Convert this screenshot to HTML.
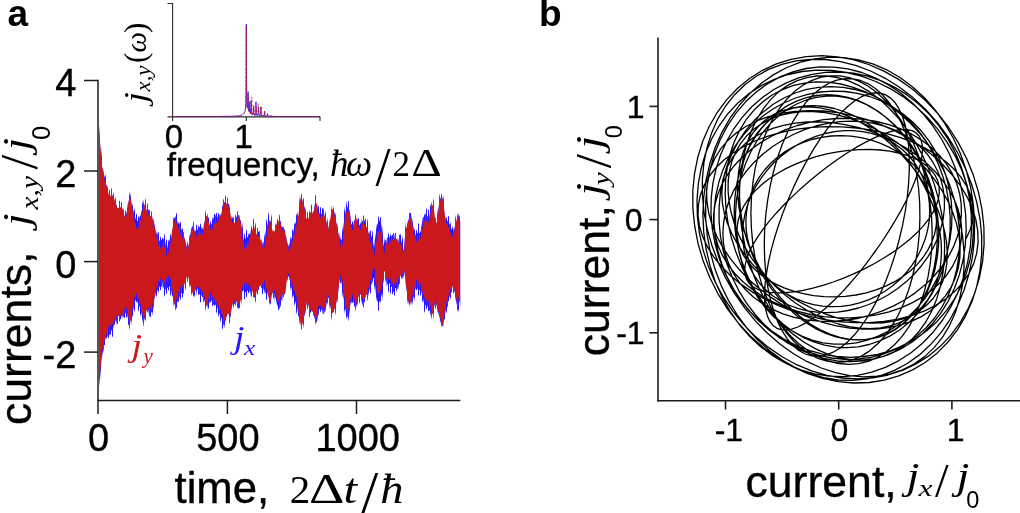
<!DOCTYPE html>
<html lang="en">
<head>
<meta charset="utf-8">
<title>Currents: time series and phase portrait</title>
<style>
html,body{margin:0;padding:0;background:#fff;}
body{width:1020px;height:513px;overflow:hidden;}
svg{display:block;}
text{white-space:pre;}
</style>
</head>
<body>
<svg width="1020" height="513" viewBox="0 0 1020 513">
<rect width="1020" height="513" fill="#fff"/>
<g id="series">
<polygon points="100.0,145.7 100.0,144.8 101.0,157.7 101.0,159.1 102.0,168.2 102.0,165.7 103.0,172.7 103.0,175.5 104.0,181.7 104.0,174.7 105.0,178.1 105.0,185.3 106.0,188.8 106.0,183.4 107.0,186.9 107.0,192.4 108.0,196.4 108.0,194.5 109.0,197.3 109.0,199.2 110.0,199.9 110.0,195.6 111.0,196.6 111.0,201.0 112.0,200.5 112.0,195.8 113.0,195.3 113.0,200.0 114.0,203.0 114.0,201.2 115.0,205.1 115.0,207.1 116.0,210.7 116.0,204.1 117.0,206.0 117.0,212.7 118.0,212.0 118.0,210.5 119.0,210.0 119.0,211.5 120.0,212.1 120.0,208.1 121.0,208.7 121.0,212.8 122.0,213.3 122.0,208.3 123.0,210.5 123.0,215.6 124.0,219.4 124.0,215.2 125.0,217.1 125.0,221.5 126.0,220.7 126.0,215.1 127.0,211.1 127.0,216.5 128.0,212.1 128.0,205.3 129.0,199.8 129.0,206.4 130.0,200.8 130.0,192.7 131.0,197.6 131.0,205.9 132.0,205.8 132.0,202.5 133.0,207.4 133.0,210.6 134.0,213.7 134.0,207.7 135.0,211.5 135.0,217.6 136.0,219.4 136.0,213.1 137.0,215.0 137.0,221.4 138.0,220.6 138.0,217.4 139.0,216.0 139.0,219.2 140.0,216.9 140.0,216.8 141.0,213.7 141.0,213.7 142.0,209.5 142.0,201.1 143.0,204.4 143.0,212.6 144.0,207.9 144.0,204.6 145.0,207.2 145.0,210.5 146.0,213.0 146.0,209.7 147.0,212.1 147.0,215.5 148.0,216.8 148.0,209.1 149.0,211.1 149.0,218.9 150.0,221.3 150.0,215.8 151.0,215.8 151.0,221.3 152.0,221.3 152.0,216.7 153.0,220.6 153.0,225.4 154.0,229.0 154.0,222.1 155.0,227.0 155.0,234.1 156.0,231.4 156.0,231.0 157.0,234.9 157.0,235.5 158.0,237.5 158.0,231.1 159.0,233.4 159.0,239.9 160.0,241.8 160.0,237.9 161.0,236.1 161.0,239.9 162.0,239.6 162.0,238.4 163.0,237.5 163.0,238.7 164.0,239.4 164.0,233.1 165.0,236.5 165.0,242.9 166.0,246.7 166.0,238.8 167.0,240.9 167.0,248.8 168.0,244.6 168.0,242.1 169.0,238.9 169.0,241.2 170.0,240.0 170.0,234.1 171.0,235.6 171.0,242.6 172.0,236.5 172.0,233.1 173.0,227.2 173.0,230.3 174.0,224.7 174.0,217.9 175.0,217.6 175.0,224.3 176.0,219.1 176.0,212.5 177.0,214.4 177.0,221.0 178.0,224.0 178.0,221.5 179.0,224.0 179.0,226.5 180.0,228.2 180.0,220.9 181.0,223.7 181.0,231.0 182.0,234.5 182.0,228.4 183.0,229.0 183.0,235.0 184.0,242.7 184.0,236.4 185.0,240.1 185.0,246.5 186.0,251.1 186.0,244.0 187.0,248.0 187.0,255.4 188.0,252.5 188.0,248.1 189.0,244.2 189.0,248.4 190.0,242.8 190.0,235.9 191.0,231.0 191.0,237.7 192.0,235.6 192.0,227.8 193.0,224.9 193.0,232.5 194.0,234.6 194.0,233.3 195.0,228.1 195.0,229.5 196.0,231.9 196.0,224.4 197.0,225.5 197.0,232.9 198.0,231.4 198.0,227.3 199.0,225.1 199.0,229.1 200.0,227.8 200.0,223.1 201.0,224.8 201.0,229.5 202.0,231.5 202.0,229.7 203.0,226.9 203.0,228.6 204.0,230.8 204.0,224.3 205.0,219.4 205.0,225.7 206.0,221.4 206.0,218.2 207.0,219.6 207.0,222.9 208.0,226.1 208.0,218.5 209.0,217.0 209.0,224.5 210.0,225.2 210.0,220.4 211.0,222.6 211.0,227.5 212.0,226.1 212.0,220.6 213.0,216.2 213.0,221.5 214.0,218.4 214.0,214.3 215.0,213.6 215.0,217.6 216.0,219.0 216.0,213.3 217.0,212.8 217.0,218.5 218.0,215.9 218.0,213.5 219.0,212.9 219.0,215.2 220.0,215.6 220.0,213.6 221.0,216.9 221.0,219.0 222.0,214.3 222.0,207.5 223.0,204.1 223.0,210.7 224.0,209.5 224.0,202.7 225.0,201.8 225.0,208.5 226.0,209.0 226.0,203.6 227.0,205.1 227.0,210.5 228.0,211.4 228.0,203.5 229.0,203.9 229.0,211.9 230.0,215.9 230.0,213.6 231.0,219.0 231.0,221.5 232.0,223.6 232.0,216.2 233.0,219.1 233.0,226.7 234.0,227.8 234.0,225.8 235.0,225.1 235.0,227.2 236.0,226.3 236.0,218.0 237.0,215.7 237.0,223.9 238.0,221.5 238.0,215.6 239.0,215.0 239.0,220.9 240.0,226.1 240.0,220.5 241.0,220.3 241.0,225.2 242.0,230.3 242.0,222.2 243.0,229.2 243.0,237.6 244.0,242.4 244.0,235.4 245.0,232.6 245.0,239.6 246.0,237.3 246.0,230.3 247.0,230.1 247.0,237.2 248.0,237.3 248.0,235.7 249.0,232.9 249.0,234.5 250.0,233.3 250.0,229.5 251.0,235.3 251.0,239.1 252.0,235.0 252.0,233.8 253.0,231.7 253.0,232.9 254.0,232.4 254.0,230.1 255.0,232.4 255.0,234.8 256.0,237.5 256.0,235.1 257.0,236.6 257.0,239.1 258.0,239.8 258.0,231.1 259.0,232.4 259.0,241.1 260.0,241.7 260.0,240.1 261.0,242.3 261.0,244.1 262.0,249.2 262.0,246.1 263.0,241.6 263.0,244.9 264.0,244.1 264.0,239.1 265.0,232.3 265.0,237.0 266.0,229.2 266.0,221.7 267.0,218.6 267.0,225.9 268.0,224.2 268.0,215.8 269.0,210.9 269.0,219.0 270.0,226.2 270.0,219.9 271.0,223.3 271.0,229.8 272.0,233.0 272.0,230.6 273.0,235.5 273.0,238.1 274.0,238.6 274.0,233.3 275.0,230.3 275.0,235.5 276.0,233.5 276.0,227.0 277.0,223.1 277.0,229.4 278.0,226.8 278.0,226.0 279.0,225.5 279.0,226.3 280.0,226.2 280.0,220.0 281.0,222.4 281.0,228.7 282.0,231.5 282.0,226.0 283.0,228.0 283.0,233.5 284.0,234.6 284.0,229.1 285.0,230.1 285.0,235.6 286.0,241.5 286.0,235.4 287.0,242.3 287.0,248.6 288.0,250.3 288.0,244.2 289.0,247.1 289.0,253.4 290.0,245.2 290.0,240.0 291.0,235.7 291.0,240.7 292.0,236.6 292.0,231.3 293.0,228.5 293.0,233.7 294.0,228.5 294.0,226.0 295.0,222.0 295.0,224.4 296.0,221.4 296.0,215.9 297.0,213.1 297.0,218.4 298.0,223.6 298.0,221.9 299.0,214.6 299.0,216.0 300.0,205.3 300.0,200.4 301.0,197.7 301.0,202.4 302.0,203.6 302.0,198.6 303.0,203.1 303.0,208.3 304.0,211.8 304.0,204.9 305.0,209.6 305.0,216.6 306.0,223.4 306.0,219.4 307.0,220.3 307.0,224.4 308.0,223.7 308.0,223.3 309.0,219.9 309.0,220.1 310.0,218.4 310.0,213.1 311.0,212.7 311.0,217.9 312.0,216.7 312.0,214.3 313.0,215.3 313.0,217.7 314.0,216.6 314.0,209.8 315.0,202.8 315.0,209.3 316.0,209.1 316.0,205.1 317.0,207.7 317.0,211.8 318.0,208.5 318.0,204.7 319.0,207.5 319.0,211.5 320.0,215.4 320.0,207.5 321.0,206.9 321.0,214.8 322.0,213.1 322.0,209.0 323.0,207.8 323.0,211.8 324.0,218.7 324.0,215.0 325.0,217.9 325.0,221.7 326.0,223.3 326.0,219.8 327.0,225.7 327.0,229.4 328.0,235.0 328.0,230.1 329.0,225.2 329.0,229.9 330.0,226.4 330.0,225.0 331.0,219.1 331.0,220.3 332.0,214.6 332.0,209.4 333.0,210.0 333.0,215.3 334.0,218.2 334.0,210.4 335.0,215.1 335.0,223.1 336.0,226.7 336.0,221.4 337.0,225.8 337.0,231.2 338.0,237.8 338.0,231.2 339.0,237.1 339.0,244.0 340.0,248.4 340.0,240.3 341.0,235.5 341.0,243.6 342.0,239.9 342.0,232.4 343.0,225.5 343.0,232.6 344.0,221.6 344.0,212.1 345.0,206.3 345.0,215.5 346.0,213.2 346.0,205.8 347.0,200.6 347.0,207.7 348.0,207.1 348.0,199.9 349.0,202.3 349.0,209.6 350.0,215.6 350.0,212.9 351.0,220.6 351.0,223.6 352.0,225.1 352.0,220.4 353.0,222.2 353.0,227.0 354.0,222.1 354.0,218.4 355.0,221.8 355.0,225.3 356.0,224.1 356.0,221.2 357.0,223.7 357.0,226.6 358.0,222.9 358.0,217.4 359.0,219.2 359.0,224.6 360.0,225.8 360.0,222.4 361.0,224.3 361.0,227.7 362.0,227.6 362.0,221.7 363.0,221.1 363.0,226.9 364.0,227.5 364.0,219.8 365.0,221.2 365.0,228.9 366.0,229.6 366.0,228.3 367.0,231.4 367.0,232.8 368.0,237.1 368.0,231.0 369.0,234.8 369.0,241.2 370.0,234.4 370.0,230.4 371.0,231.3 371.0,235.3 372.0,238.0 372.0,229.6 373.0,234.2 373.0,242.7 374.0,248.6 374.0,247.5 375.0,238.2 375.0,239.2 376.0,232.1 376.0,229.9 377.0,223.5 377.0,225.5 378.0,222.8 378.0,217.8 379.0,216.0 379.0,221.0 380.0,220.5 380.0,216.4 381.0,218.2 381.0,222.5 382.0,231.0 382.0,225.0 383.0,235.6 383.0,241.9 384.0,247.2 384.0,243.5 385.0,237.1 385.0,240.5 386.0,239.9 386.0,237.5 387.0,245.4 387.0,247.8 388.0,243.1 388.0,234.8 389.0,232.2 389.0,240.2 390.0,238.2 390.0,235.4 391.0,233.2 391.0,235.9 392.0,236.7 392.0,234.9 393.0,234.7 393.0,236.6 394.0,235.8 394.0,232.7 395.0,240.3 395.0,243.3 396.0,244.0 396.0,240.4 397.0,241.4 397.0,245.0 398.0,246.3 398.0,243.7 399.0,237.6 399.0,240.2 400.0,239.2 400.0,234.0 401.0,234.8 401.0,240.0 402.0,243.3 402.0,235.3 403.0,240.1 403.0,248.3 404.0,251.3 404.0,249.4 405.0,236.4 405.0,237.9 406.0,235.0 406.0,230.7 407.0,226.8 407.0,231.0 408.0,227.9 408.0,221.6 409.0,218.2 409.0,224.3 410.0,221.4 410.0,213.6 411.0,212.7 411.0,220.3 412.0,226.1 412.0,217.7 413.0,224.1 413.0,232.6 414.0,229.3 414.0,227.6 415.0,231.1 415.0,233.0 416.0,236.3 416.0,231.2 417.0,229.3 417.0,234.4 418.0,232.2 418.0,222.9 419.0,224.1 419.0,233.3 420.0,233.0 420.0,232.1 421.0,230.7 421.0,231.4 422.0,228.7 422.0,223.0 423.0,215.4 423.0,220.8 424.0,218.1 424.0,216.0 425.0,213.1 425.0,215.2 426.0,215.1 426.0,208.3 427.0,209.2 427.0,216.1 428.0,217.2 428.0,209.2 429.0,210.2 429.0,218.2 430.0,212.6 430.0,207.4 431.0,203.2 431.0,208.3 432.0,213.3 432.0,213.0 433.0,213.5 433.0,213.8 434.0,215.7 434.0,214.9 435.0,222.2 435.0,223.3 436.0,226.6 436.0,222.4 437.0,223.4 437.0,227.7 438.0,221.3 438.0,213.6 439.0,204.5 439.0,211.8 440.0,205.6 440.0,199.8 441.0,196.7 441.0,202.4 442.0,202.6 442.0,196.5 443.0,200.5 443.0,206.8 444.0,212.9 444.0,208.9 445.0,218.1 445.0,222.4 446.0,220.0 446.0,216.9 447.0,218.2 447.0,221.2 448.0,222.5 448.0,216.1 449.0,216.5 449.0,223.0 450.0,225.0 450.0,221.8 451.0,225.3 451.0,228.6 452.0,230.0 452.0,226.2 453.0,228.2 453.0,232.2 454.0,237.0 454.0,230.1 455.0,225.9 455.0,232.6 456.0,228.2 456.0,223.2 457.0,219.1 457.0,223.9 458.0,220.7 458.0,212.3 459.0,217.9 459.0,226.5 460.0,228.4 460.0,220.7 460.3,221.2 460.3,229.0 460.3,295.9 460.3,304.0 460.0,307.2 460.0,299.3 459.0,303.5 459.0,308.4 458.0,312.5 458.0,307.8 457.0,296.9 457.0,305.3 456.0,300.9 456.0,292.3 455.0,287.1 455.0,293.2 454.0,289.5 454.0,283.2 453.0,281.2 453.0,284.0 452.0,289.0 452.0,286.3 451.0,290.5 451.0,296.4 450.0,300.3 450.0,294.6 449.0,299.0 449.0,300.2 448.0,302.2 448.0,301.0 447.0,304.2 447.0,310.4 446.0,313.8 446.0,307.7 445.0,310.7 445.0,319.0 444.0,319.7 444.0,311.6 443.0,318.2 443.0,325.4 442.0,326.1 442.0,319.0 441.0,318.0 441.0,323.8 440.0,320.1 440.0,314.2 439.0,307.9 439.0,315.5 438.0,311.5 438.0,303.8 437.0,300.3 437.0,307.0 436.0,303.1 436.0,296.2 435.0,298.5 435.0,303.3 434.0,307.8 434.0,303.2 433.0,309.5 433.0,312.7 432.0,311.0 432.0,307.9 431.0,312.9 431.0,316.7 430.0,312.1 430.0,308.1 429.0,307.8 429.0,311.2 428.0,310.8 428.0,307.4 427.0,304.5 427.0,308.7 426.0,308.7 426.0,304.5 425.0,305.4 425.0,313.1 424.0,311.1 424.0,303.3 423.0,297.9 423.0,303.6 422.0,299.5 422.0,293.6 421.0,289.9 421.0,296.8 420.0,294.2 420.0,287.2 419.0,288.9 419.0,294.9 418.0,295.9 418.0,289.8 417.0,286.9 417.0,290.3 416.0,290.1 416.0,286.7 415.0,289.9 415.0,296.3 414.0,301.9 414.0,295.6 413.0,297.5 413.0,305.6 412.0,300.1 412.0,292.1 411.0,297.2 411.0,298.6 410.0,303.0 410.0,301.8 409.0,297.8 409.0,304.7 408.0,300.3 408.0,293.2 407.0,287.0 407.0,292.0 406.0,286.1 406.0,280.8 405.0,269.6 405.0,276.3 404.0,270.4 404.0,263.6 403.0,266.2 403.0,276.3 402.0,279.7 402.0,269.7 401.0,270.8 401.0,274.7 400.0,274.2 400.0,270.3 399.0,277.7 399.0,284.6 398.0,289.8 398.0,283.1 397.0,285.7 397.0,289.8 396.0,292.1 396.0,288.1 395.0,287.9 395.0,295.3 394.0,295.5 394.0,288.2 393.0,288.0 393.0,294.4 392.0,293.4 392.0,286.9 391.0,286.5 391.0,294.8 390.0,292.1 390.0,283.7 389.0,283.3 389.0,290.7 388.0,292.8 388.0,285.5 387.0,282.7 387.0,287.7 386.0,279.5 386.0,274.0 385.0,266.8 385.0,269.4 384.0,270.6 384.0,268.0 383.0,283.0 383.0,291.5 382.0,301.6 382.0,293.6 381.0,297.7 381.0,300.5 380.0,303.4 380.0,300.8 379.0,302.2 379.0,310.3 378.0,311.1 378.0,303.0 377.0,299.9 377.0,301.0 376.0,296.8 376.0,295.5 375.0,283.8 375.0,290.7 374.0,284.7 374.0,277.6 373.0,278.7 373.0,279.7 372.0,283.8 372.0,283.0 371.0,284.8 371.0,291.7 370.0,294.5 370.0,287.6 369.0,291.3 369.0,297.2 368.0,291.4 368.0,285.6 367.0,289.1 367.0,292.9 366.0,295.3 366.0,291.7 365.0,293.8 365.0,301.2 364.0,303.1 364.0,295.8 363.0,296.4 363.0,305.6 362.0,302.9 362.0,293.5 361.0,286.6 361.0,294.3 360.0,294.7 360.0,287.0 359.0,290.6 359.0,292.1 358.0,296.1 358.0,294.7 357.0,298.5 357.0,304.0 356.0,307.5 356.0,302.1 355.0,300.8 355.0,306.7 354.0,306.3 354.0,300.3 353.0,298.3 353.0,303.4 352.0,302.0 352.0,296.9 351.0,295.7 351.0,301.3 350.0,306.8 350.0,301.4 349.0,310.3 349.0,317.2 348.0,321.9 348.0,315.2 347.0,315.4 347.0,320.0 346.0,316.3 346.0,311.6 345.0,307.0 345.0,314.3 344.0,308.4 344.0,300.8 343.0,293.0 343.0,298.1 342.0,291.5 342.0,286.1 341.0,279.6 341.0,283.2 340.0,283.1 340.0,279.4 339.0,277.3 339.0,285.3 338.0,293.9 338.0,286.2 337.0,293.4 337.0,298.4 336.0,304.3 336.0,299.5 335.0,303.6 335.0,306.8 334.0,309.7 334.0,306.7 333.0,308.9 333.0,311.4 332.0,312.9 332.0,310.5 331.0,304.1 331.0,309.9 330.0,303.7 330.0,297.7 329.0,291.8 329.0,298.9 328.0,297.2 328.0,289.9 327.0,293.6 327.0,301.4 326.0,307.5 326.0,299.9 325.0,302.4 325.0,310.3 324.0,313.8 324.0,305.9 323.0,304.8 323.0,309.0 322.0,315.0 322.0,310.7 321.0,308.8 321.0,311.9 320.0,311.5 320.0,308.4 319.0,309.8 319.0,312.9 318.0,316.4 318.0,313.4 317.0,319.3 317.0,323.5 316.0,320.4 316.0,316.3 315.0,313.3 315.0,319.9 314.0,315.8 314.0,309.1 313.0,307.9 313.0,311.7 312.0,310.9 312.0,307.0 311.0,306.3 311.0,313.1 310.0,311.9 310.0,305.1 309.0,300.5 309.0,307.2 308.0,302.4 308.0,295.4 307.0,295.7 307.0,299.3 306.0,306.3 306.0,303.0 305.0,306.6 305.0,313.0 304.0,317.1 304.0,310.9 303.0,317.6 303.0,319.5 302.0,324.4 302.0,322.7 301.0,320.9 301.0,322.1 300.0,317.0 300.0,315.5 299.0,309.6 299.0,315.0 298.0,317.3 298.0,311.7 297.0,306.5 297.0,314.5 296.0,311.5 296.0,303.4 295.0,300.4 295.0,306.0 294.0,303.4 294.0,297.6 293.0,293.9 293.0,298.7 292.0,295.2 292.0,290.2 291.0,286.3 291.0,291.0 290.0,285.4 290.0,280.5 289.0,269.6 289.0,275.7 288.0,277.2 288.0,271.1 287.0,272.6 287.0,274.2 286.0,281.6 286.0,280.2 285.0,289.2 285.0,293.9 284.0,294.4 284.0,289.7 283.0,288.7 283.0,292.7 282.0,302.3 282.0,298.4 281.0,301.3 281.0,304.4 280.0,307.9 280.0,305.0 279.0,307.7 279.0,310.3 278.0,309.9 278.0,307.3 277.0,303.8 277.0,304.7 276.0,299.7 276.0,298.7 275.0,297.3 275.0,303.0 274.0,291.6 274.0,285.8 273.0,285.6 273.0,291.1 272.0,294.5 272.0,289.2 271.0,297.0 271.0,303.0 270.0,304.7 270.0,298.7 269.0,294.1 269.0,298.5 268.0,294.6 268.0,290.0 267.0,295.8 267.0,300.6 266.0,299.1 266.0,294.2 265.0,290.8 265.0,294.6 264.0,289.4 264.0,285.7 263.0,288.0 263.0,294.1 262.0,294.1 262.0,288.0 261.0,280.9 261.0,282.2 260.0,282.8 260.0,281.6 259.0,282.7 259.0,289.2 258.0,290.4 258.0,284.0 257.0,284.5 257.0,289.6 256.0,292.6 256.0,287.5 255.0,291.3 255.0,297.8 254.0,297.3 254.0,290.9 253.0,288.8 253.0,289.8 252.0,287.1 252.0,286.1 251.0,284.8 251.0,289.7 250.0,297.2 250.0,292.3 249.0,290.1 249.0,292.7 248.0,293.2 248.0,290.5 247.0,290.7 247.0,296.5 246.0,297.3 246.0,291.5 245.0,292.4 245.0,299.4 244.0,298.7 244.0,291.7 243.0,288.8 243.0,289.9 242.0,293.1 242.0,292.2 241.0,291.4 241.0,294.2 240.0,301.2 240.0,298.7 239.0,301.5 239.0,309.4 238.0,307.0 238.0,299.0 237.0,294.9 237.0,302.6 236.0,301.1 236.0,293.4 235.0,296.8 235.0,303.2 234.0,304.4 234.0,298.0 233.0,299.2 233.0,300.7 232.0,303.4 232.0,302.0 231.0,307.8 231.0,315.1 230.0,318.3 230.0,311.2 229.0,309.3 229.0,312.6 228.0,312.5 228.0,309.3 227.0,311.6 227.0,315.7 226.0,317.6 226.0,313.6 225.0,315.5 225.0,323.4 224.0,329.1 224.0,321.4 223.0,321.7 223.0,329.9 222.0,327.5 222.0,319.3 221.0,316.5 221.0,322.0 220.0,319.9 220.0,314.4 219.0,313.0 219.0,317.3 218.0,314.7 218.0,310.3 217.0,305.5 217.0,313.7 216.0,311.6 216.0,303.3 215.0,302.2 215.0,305.8 214.0,305.2 214.0,301.6 213.0,302.4 213.0,306.3 212.0,305.2 212.0,301.3 211.0,299.0 211.0,302.0 210.0,302.2 210.0,299.2 209.0,300.0 209.0,307.2 208.0,309.7 208.0,302.2 207.0,301.4 207.0,306.7 206.0,304.2 206.0,298.9 205.0,294.5 205.0,302.3 204.0,299.0 204.0,291.0 203.0,296.2 203.0,296.9 202.0,297.0 202.0,296.3 201.0,294.0 201.0,302.4 200.0,301.7 200.0,293.3 199.0,291.3 199.0,295.4 198.0,294.0 198.0,289.9 197.0,288.1 197.0,295.7 196.0,289.9 196.0,282.2 195.0,286.5 195.0,294.8 194.0,297.3 194.0,289.1 193.0,289.8 193.0,292.2 192.0,288.8 192.0,286.2 191.0,282.8 191.0,285.8 190.0,281.8 190.0,278.7 189.0,273.6 189.0,277.3 188.0,273.0 188.0,269.1 187.0,270.0 187.0,274.7 186.0,278.1 186.0,273.5 185.0,276.6 185.0,278.9 184.0,286.2 184.0,284.3 183.0,289.5 183.0,296.4 182.0,298.2 182.0,291.3 181.0,292.1 181.0,298.5 180.0,300.6 180.0,294.3 179.0,298.2 179.0,300.7 178.0,303.1 178.0,300.6 177.0,302.5 177.0,307.3 176.0,309.1 176.0,304.5 175.0,298.7 175.0,305.0 174.0,304.0 174.0,297.6 173.0,290.2 173.0,294.9 172.0,297.5 172.0,292.6 171.0,288.7 171.0,296.6 170.0,293.9 170.0,285.9 169.0,287.1 169.0,290.1 168.0,291.1 168.0,288.2 167.0,287.3 167.0,292.8 166.0,294.3 166.0,288.8 165.0,289.3 165.0,297.3 164.0,294.6 164.0,286.5 163.0,283.4 163.0,289.3 162.0,280.1 162.0,274.1 161.0,284.5 161.0,289.5 160.0,290.5 160.0,285.5 159.0,288.1 159.0,290.8 158.0,293.2 158.0,290.6 157.0,290.5 157.0,295.0 156.0,297.6 156.0,293.2 155.0,287.9 155.0,296.2 154.0,301.1 154.0,293.0 153.0,305.8 153.0,310.8 152.0,316.1 152.0,311.3 151.0,312.0 151.0,317.2 150.0,316.4 150.0,311.2 149.0,310.0 149.0,314.7 148.0,308.2 148.0,302.6 147.0,305.0 147.0,306.9 146.0,309.9 146.0,308.0 145.0,310.9 145.0,317.1 144.0,320.8 144.0,314.6 143.0,310.2 143.0,318.2 142.0,322.7 142.0,314.5 141.0,310.9 141.0,317.2 140.0,313.1 140.0,306.7 139.0,305.8 139.0,311.5 138.0,309.9 138.0,304.1 137.0,300.3 137.0,302.4 136.0,301.6 136.0,299.5 135.0,301.2 135.0,309.3 134.0,312.6 134.0,304.7 133.0,309.1 133.0,317.5 132.0,315.2 132.0,307.0 131.0,311.4 131.0,315.4 130.0,322.4 130.0,318.7 129.0,317.2 129.0,325.5 128.0,324.3 128.0,316.0 127.0,311.3 127.0,318.3 126.0,316.4 126.0,309.4 125.0,312.6 125.0,316.9 124.0,318.4 124.0,314.1 123.0,314.3 123.0,318.9 122.0,314.1 122.0,309.5 121.0,311.2 121.0,319.0 120.0,319.5 120.0,311.7 119.0,310.8 119.0,316.0 118.0,316.0 118.0,310.8 117.0,311.8 117.0,319.4 116.0,325.8 116.0,318.4 115.0,321.1 115.0,323.3 114.0,326.2 114.0,324.2 113.0,328.9 113.0,336.1 112.0,337.5 112.0,330.4 111.0,330.3 111.0,334.2 110.0,334.8 110.0,330.9 109.0,331.0 109.0,336.7 108.0,338.9 108.0,333.2 107.0,335.9 107.0,337.1 106.0,339.7 106.0,338.6 105.0,336.7 105.0,344.9 104.0,345.2 104.0,337.0 103.0,343.0 103.0,351.0 102.0,357.2 102.0,349.4 101.0,359.8 101.0,368.2 100.0,379.2 100.0,371.4" fill="#2814ff"/>
<polygon points="99.0,130.0 99.0,125.1 100.0,136.2 100.0,141.5 101.0,155.5 101.0,147.5 102.0,157.7 102.0,166.1 103.0,172.5 103.0,168.0 104.0,173.7 104.0,178.4 105.0,181.7 105.0,173.6 106.0,177.1 106.0,185.3 107.0,188.0 107.0,184.7 108.0,188.2 108.0,191.6 109.0,195.2 109.0,189.6 110.0,190.6 110.0,196.2 111.0,195.6 111.0,188.3 112.0,188.8 112.0,196.1 113.0,197.0 113.0,192.8 114.0,194.0 114.0,198.2 115.0,201.5 115.0,196.3 116.0,199.4 116.0,204.7 117.0,207.6 117.0,207.2 118.0,208.0 118.0,208.5 119.0,207.5 119.0,200.7 120.0,200.8 120.0,207.5 121.0,207.0 121.0,201.8 122.0,202.4 122.0,207.6 123.0,210.8 123.0,207.4 124.0,210.8 124.0,214.4 125.0,217.2 125.0,210.2 126.0,211.2 126.0,218.2 127.0,212.3 127.0,208.9 128.0,202.1 128.0,205.2 129.0,200.1 129.0,195.5 130.0,191.6 130.0,196.2 131.0,200.9 131.0,199.3 132.0,205.3 132.0,207.1 133.0,212.9 133.0,209.0 134.0,213.8 134.0,218.0 135.0,224.4 135.0,222.1 136.0,224.9 136.0,227.3 137.0,230.0 137.0,227.2 138.0,225.8 138.0,228.7 139.0,226.3 139.0,219.5 140.0,215.8 140.0,222.5 141.0,218.1 141.0,215.0 142.0,211.1 142.0,214.0 143.0,208.8 143.0,203.9 144.0,198.8 144.0,203.5 145.0,206.3 145.0,198.0 146.0,200.6 146.0,209.0 147.0,210.6 147.0,202.4 148.0,204.7 148.0,213.0 149.0,216.4 149.0,209.8 150.0,209.8 150.0,216.4 151.0,216.5 151.0,211.3 152.0,211.8 152.0,217.1 153.0,221.0 153.0,218.0 154.0,222.1 154.0,225.2 155.0,229.0 155.0,227.1 156.0,232.0 156.0,234.1 157.0,239.4 157.0,231.3 158.0,235.6 158.0,244.0 159.0,246.7 159.0,240.6 160.0,242.3 160.0,248.4 161.0,248.7 161.0,247.2 162.0,245.8 162.0,247.3 163.0,245.6 163.0,239.8 164.0,240.7 164.0,246.6 165.0,247.9 165.0,241.1 166.0,246.9 166.0,254.0 167.0,257.4 167.0,251.6 168.0,247.6 168.0,253.3 169.0,250.6 169.0,242.6 170.0,238.6 170.0,246.5 171.0,239.6 171.0,238.8 172.0,230.9 172.0,231.4 173.0,225.7 173.0,220.5 174.0,216.1 174.0,221.1 175.0,220.1 175.0,215.6 176.0,218.0 176.0,222.6 177.0,223.8 177.0,222.9 178.0,225.9 178.0,226.9 179.0,229.9 179.0,222.1 180.0,225.0 180.0,233.0 181.0,235.7 181.0,228.2 182.0,230.2 182.0,237.7 183.0,238.3 183.0,232.7 184.0,231.7 184.0,237.3 185.0,241.4 185.0,238.6 186.0,243.5 186.0,246.5 187.0,250.9 187.0,243.6 188.0,240.7 188.0,248.1 189.0,243.3 189.0,238.3 190.0,233.5 190.0,238.3 191.0,234.5 191.0,229.4 192.0,226.3 192.0,231.2 193.0,227.3 193.0,220.5 194.0,223.3 194.0,230.1 195.0,232.7 195.0,230.9 196.0,232.9 196.0,234.8 197.0,237.8 197.0,230.5 198.0,228.6 198.0,235.8 199.0,232.7 199.0,226.4 200.0,227.4 200.0,233.7 201.0,233.4 201.0,226.4 202.0,228.9 202.0,235.9 203.0,233.6 203.0,230.9 204.0,223.2 204.0,225.6 205.0,221.6 205.0,213.8 206.0,208.9 206.0,216.5 207.0,215.4 207.0,213.2 208.0,215.9 208.0,218.2 209.0,224.1 209.0,223.1 210.0,226.9 210.0,228.1 211.0,231.0 211.0,223.6 212.0,224.2 212.0,231.6 213.0,226.8 213.0,219.1 214.0,216.4 214.0,224.1 215.0,223.4 215.0,215.7 216.0,215.0 216.0,222.7 217.0,222.6 217.0,217.9 218.0,216.6 218.0,221.2 219.0,219.8 219.0,216.8 220.0,214.2 220.0,217.1 221.0,214.6 221.0,214.4 222.0,210.7 222.0,210.8 223.0,206.7 223.0,200.6 224.0,198.6 224.0,204.6 225.0,202.0 225.0,195.5 226.0,196.0 226.0,202.6 227.0,204.6 227.0,197.3 228.0,198.1 228.0,205.5 229.0,207.2 229.0,204.2 230.0,208.1 230.0,211.3 231.0,217.6 231.0,215.2 232.0,218.8 232.0,221.4 233.0,223.1 233.0,217.2 234.0,217.4 234.0,223.3 235.0,222.6 235.0,215.4 236.0,214.8 236.0,221.9 237.0,220.8 237.0,212.5 238.0,209.9 238.0,218.1 239.0,215.9 239.0,214.1 240.0,218.6 240.0,220.6 241.0,224.9 241.0,220.2 242.0,231.0 242.0,236.0 243.0,243.4 243.0,235.8 244.0,241.9 244.0,249.8 245.0,248.6 245.0,244.3 246.0,242.3 246.0,246.6 247.0,247.8 247.0,242.2 248.0,241.0 248.0,246.5 249.0,239.7 249.0,239.2 250.0,235.4 250.0,235.7 251.0,233.9 251.0,227.7 252.0,224.9 252.0,231.0 253.0,227.8 253.0,219.9 254.0,217.8 254.0,225.7 255.0,229.3 255.0,222.1 256.0,225.5 256.0,232.9 257.0,235.0 257.0,227.3 258.0,228.4 258.0,236.1 259.0,236.5 259.0,230.4 260.0,231.9 260.0,238.0 261.0,241.0 261.0,238.3 262.0,242.3 262.0,245.1 263.0,249.0 263.0,242.2 264.0,242.4 264.0,249.2 265.0,243.1 265.0,240.5 266.0,235.4 266.0,237.8 267.0,234.9 267.0,227.5 268.0,222.5 268.0,229.7 269.0,222.5 269.0,221.5 270.0,220.0 270.0,221.0 271.0,223.6 271.0,213.8 272.0,218.0 272.0,228.0 273.0,232.6 273.0,230.7 274.0,231.0 274.0,233.0 275.0,229.9 275.0,225.9 276.0,222.4 276.0,226.2 277.0,223.3 277.0,219.9 278.0,218.2 278.0,221.6 279.0,220.5 279.0,214.1 280.0,215.7 280.0,222.1 281.0,227.0 281.0,224.9 282.0,227.0 282.0,229.1 283.0,230.4 283.0,226.4 284.0,227.6 284.0,231.6 285.0,231.0 285.0,230.9 286.0,236.7 286.0,236.9 287.0,243.7 287.0,240.9 288.0,244.4 288.0,247.4 289.0,252.0 289.0,245.0 290.0,242.6 290.0,249.6 291.0,243.8 291.0,242.3 292.0,240.3 292.0,241.7 293.0,240.9 293.0,234.9 294.0,230.1 294.0,235.9 295.0,232.5 295.0,228.5 296.0,224.6 296.0,228.4 297.0,222.6 297.0,215.9 298.0,211.0 298.0,217.5 299.0,210.6 299.0,204.3 300.0,194.5 300.0,200.4 301.0,197.8 301.0,193.4 302.0,195.1 302.0,199.5 303.0,204.8 303.0,197.3 304.0,199.7 304.0,207.4 305.0,211.6 305.0,205.8 306.0,211.9 306.0,217.8 307.0,219.0 307.0,211.8 308.0,212.5 308.0,219.6 309.0,216.4 309.0,212.7 310.0,209.5 310.0,213.1 311.0,212.2 311.0,204.8 312.0,204.6 312.0,211.9 313.0,213.8 313.0,211.5 314.0,211.0 314.0,213.2 315.0,204.7 315.0,196.1 316.0,194.3 316.0,202.7 317.0,204.7 317.0,202.1 318.0,208.9 318.0,211.7 319.0,214.9 319.0,212.1 320.0,215.0 320.0,217.9 321.0,217.4 321.0,216.3 322.0,215.3 322.0,216.4 323.0,215.3 323.0,209.7 324.0,207.8 324.0,213.3 325.0,217.5 325.0,210.7 326.0,213.7 326.0,220.6 327.0,225.8 327.0,216.9 328.0,222.1 328.0,231.1 329.0,225.6 329.0,223.8 330.0,218.8 330.0,220.4 331.0,214.1 331.0,210.1 332.0,205.1 332.0,209.0 333.0,210.1 333.0,205.8 334.0,208.9 334.0,213.3 335.0,218.1 335.0,212.0 336.0,215.9 336.0,222.2 337.0,226.4 337.0,222.0 338.0,227.9 338.0,232.5 339.0,237.7 339.0,232.3 340.0,238.2 340.0,243.8 341.0,248.0 341.0,240.6 342.0,238.6 342.0,245.9 343.0,241.3 343.0,234.5 344.0,221.9 344.0,228.2 345.0,218.3 345.0,214.4 346.0,209.1 346.0,212.8 347.0,211.9 347.0,207.4 348.0,207.2 348.0,211.7 349.0,212.7 349.0,208.4 350.0,213.3 350.0,217.8 351.0,227.0 351.0,225.7 352.0,228.0 352.0,229.5 353.0,230.7 353.0,228.3 354.0,222.9 354.0,225.1 355.0,219.3 355.0,216.1 356.0,213.4 356.0,216.5 357.0,220.7 357.0,217.4 358.0,220.7 358.0,224.1 359.0,229.0 359.0,225.6 360.0,226.6 360.0,230.0 361.0,228.8 361.0,223.2 362.0,217.6 362.0,223.0 363.0,223.2 363.0,214.9 364.0,215.9 364.0,224.2 365.0,224.6 365.0,217.7 366.0,219.2 366.0,226.2 367.0,227.6 367.0,218.0 368.0,221.4 368.0,231.2 369.0,237.1 369.0,230.4 370.0,234.3 370.0,241.2 371.0,243.5 371.0,238.0 372.0,240.9 372.0,246.6 373.0,251.5 373.0,243.7 374.0,249.6 374.0,257.6 375.0,251.0 375.0,244.5 376.0,237.5 376.0,243.7 377.0,237.3 377.0,232.4 378.0,229.5 378.0,234.3 379.0,230.9 379.0,229.8 380.0,229.8 380.0,230.9 381.0,232.8 381.0,225.9 382.0,232.0 382.0,239.1 383.0,246.7 383.0,244.5 384.0,252.4 384.0,254.7 385.0,248.9 385.0,247.1 386.0,243.3 386.0,245.0 387.0,241.7 387.0,236.8 388.0,238.3 388.0,243.3 389.0,244.9 389.0,237.9 390.0,235.9 390.0,242.9 391.0,240.0 391.0,236.7 392.0,235.8 392.0,238.9 393.0,240.2 393.0,233.3 394.0,232.8 394.0,239.7 395.0,238.2 395.0,233.1 396.0,232.6 396.0,237.7 397.0,239.7 397.0,237.9 398.0,240.8 398.0,242.7 399.0,242.7 399.0,234.4 400.0,234.9 400.0,243.2 401.0,245.0 401.0,240.9 402.0,243.4 402.0,247.5 403.0,252.8 403.0,249.7 404.0,251.7 404.0,254.6 405.0,237.0 405.0,229.3 406.0,221.2 406.0,228.6 407.0,226.0 407.0,224.3 408.0,220.7 408.0,222.3 409.0,220.5 409.0,213.8 410.0,212.1 410.0,218.7 411.0,217.3 411.0,215.0 412.0,219.8 412.0,222.1 413.0,228.9 413.0,225.0 414.0,229.3 414.0,233.4 415.0,237.0 415.0,234.4 416.0,239.3 416.0,242.1 417.0,241.5 417.0,234.1 418.0,232.4 418.0,239.8 419.0,239.2 419.0,235.2 420.0,234.8 420.0,238.8 421.0,235.8 421.0,227.5 422.0,223.5 422.0,231.6 423.0,224.4 423.0,218.4 424.0,215.9 424.0,221.7 425.0,220.1 425.0,213.8 426.0,214.3 426.0,220.6 427.0,221.1 427.0,216.1 428.0,217.1 428.0,222.2 429.0,222.6 429.0,219.2 430.0,214.3 430.0,217.5 431.0,210.2 431.0,206.0 432.0,200.4 432.0,204.4 433.0,206.1 433.0,198.1 434.0,201.4 434.0,209.7 435.0,218.2 435.0,216.0 436.0,219.4 436.0,221.7 437.0,223.4 437.0,215.0 438.0,207.9 438.0,216.1 439.0,206.3 439.0,197.2 440.0,193.3 440.0,202.2 441.0,198.8 441.0,195.0 442.0,193.6 442.0,197.4 443.0,200.3 443.0,194.4 444.0,200.6 444.0,206.7 445.0,219.4 445.0,215.6 446.0,219.7 446.0,223.7 447.0,224.1 447.0,220.2 448.0,221.5 448.0,225.4 449.0,228.7 449.0,223.8 450.0,226.5 450.0,231.5 451.0,234.3 451.0,234.1 452.0,236.5 452.0,236.9 453.0,236.3 453.0,231.4 454.0,228.1 454.0,232.9 455.0,227.9 455.0,219.5 456.0,214.6 456.0,222.8 457.0,219.3 457.0,216.1 458.0,213.0 458.0,216.2 459.0,220.8 459.0,214.2 460.0,217.2 460.0,224.0 460.0,290.3 460.0,297.1 459.0,302.0 459.0,295.5 458.0,303.2 458.0,311.2 457.0,310.0 457.0,302.0 456.0,296.8 456.0,301.6 455.0,296.7 455.0,291.7 454.0,288.1 454.0,294.3 453.0,292.3 453.0,286.1 452.0,286.8 452.0,291.8 451.0,292.8 451.0,287.8 450.0,290.9 450.0,293.0 449.0,296.9 449.0,295.0 448.0,297.2 448.0,305.4 447.0,308.4 447.0,300.3 446.0,303.4 446.0,309.5 445.0,314.7 445.0,308.8 444.0,317.3 444.0,320.7 443.0,327.7 443.0,324.6 442.0,323.8 442.0,328.1 441.0,325.0 441.0,320.7 440.0,316.4 440.0,319.2 439.0,315.4 439.0,312.4 438.0,310.3 438.0,313.2 437.0,309.2 437.0,306.2 436.0,299.3 436.0,307.5 435.0,309.5 435.0,301.3 434.0,305.9 434.0,312.8 433.0,320.5 433.0,314.0 432.0,313.8 432.0,320.2 431.0,315.8 431.0,309.2 430.0,303.1 430.0,311.2 429.0,309.8 429.0,301.5 428.0,300.8 428.0,306.2 427.0,305.7 427.0,300.2 426.0,299.8 426.0,303.8 425.0,302.3 425.0,298.3 424.0,296.8 424.0,298.6 423.0,295.2 423.0,293.2 422.0,290.8 422.0,293.4 421.0,289.5 421.0,286.7 420.0,282.1 420.0,289.8 419.0,290.8 419.0,283.1 418.0,283.0 418.0,289.2 417.0,285.6 417.0,279.2 416.0,279.8 416.0,285.7 415.0,289.8 415.0,284.0 414.0,289.8 414.0,295.5 413.0,299.1 413.0,293.6 412.0,296.6 412.0,301.3 411.0,305.5 411.0,301.0 410.0,305.5 410.0,306.8 409.0,303.3 409.0,302.0 408.0,298.4 408.0,304.7 407.0,298.9 407.0,292.4 406.0,284.2 406.0,287.8 405.0,276.9 405.0,272.9 404.0,269.6 404.0,275.6 403.0,278.2 403.0,272.3 402.0,275.0 402.0,277.8 401.0,279.4 401.0,276.7 400.0,275.3 400.0,283.4 399.0,284.1 399.0,276.0 398.0,279.3 398.0,287.7 397.0,289.6 397.0,281.4 396.0,283.1 396.0,284.6 395.0,285.5 395.0,283.9 394.0,285.0 394.0,292.2 393.0,291.6 393.0,284.3 392.0,282.6 392.0,287.2 391.0,285.2 391.0,280.6 390.0,276.5 390.0,279.4 389.0,280.3 389.0,277.5 388.0,281.0 388.0,283.5 387.0,282.0 387.0,279.6 386.0,276.7 386.0,282.8 385.0,277.9 385.0,271.6 384.0,271.5 384.0,279.4 383.0,284.6 383.0,277.0 382.0,285.8 382.0,286.1 381.0,289.0 381.0,288.9 380.0,292.1 380.0,293.6 379.0,293.8 379.0,292.4 378.0,293.2 378.0,296.4 377.0,291.8 377.0,288.5 376.0,281.5 376.0,288.8 375.0,279.1 375.0,271.5 374.0,266.8 374.0,269.1 373.0,270.6 373.0,268.4 372.0,274.5 372.0,281.1 371.0,285.9 371.0,279.5 370.0,281.3 370.0,286.7 369.0,290.7 369.0,285.4 368.0,290.1 368.0,298.2 367.0,301.9 367.0,294.0 366.0,295.3 366.0,296.1 365.0,298.4 365.0,297.8 364.0,299.3 364.0,307.6 363.0,307.0 363.0,298.7 362.0,298.1 362.0,303.7 361.0,298.8 361.0,293.0 360.0,293.7 360.0,302.1 359.0,304.1 359.0,295.8 358.0,298.2 358.0,302.4 357.0,306.2 357.0,302.1 356.0,304.9 356.0,312.0 355.0,307.9 355.0,300.7 354.0,298.8 354.0,304.0 353.0,300.6 353.0,295.3 352.0,294.1 352.0,301.4 351.0,303.8 351.0,296.6 350.0,302.3 350.0,309.6 349.0,314.8 349.0,307.7 348.0,311.5 348.0,317.5 347.0,315.8 347.0,309.9 346.0,306.0 346.0,311.4 345.0,305.5 345.0,299.9 344.0,293.4 344.0,299.1 343.0,291.2 343.0,285.3 342.0,279.1 342.0,281.8 341.0,277.4 341.0,274.5 340.0,276.8 340.0,278.1 339.0,284.1 339.0,283.1 338.0,291.9 338.0,297.8 337.0,304.4 337.0,298.7 336.0,303.5 336.0,312.0 335.0,315.6 335.0,307.3 334.0,310.5 334.0,311.4 333.0,313.1 333.0,312.3 332.0,314.1 332.0,321.2 331.0,316.0 331.0,308.8 330.0,302.4 330.0,309.9 329.0,303.7 329.0,296.0 328.0,294.4 328.0,302.2 327.0,304.8 327.0,297.1 326.0,302.5 326.0,308.8 325.0,312.3 325.0,306.2 324.0,310.2 324.0,314.7 323.0,312.7 323.0,308.2 322.0,306.9 322.0,309.1 321.0,308.1 321.0,305.9 320.0,304.8 320.0,305.8 319.0,306.4 319.0,305.5 318.0,308.1 318.0,315.1 317.0,321.7 317.0,314.9 316.0,319.6 316.0,325.0 315.0,322.1 315.0,316.6 314.0,313.6 314.0,316.0 313.0,315.1 313.0,312.6 312.0,310.7 312.0,311.6 311.0,311.1 311.0,310.2 310.0,310.4 310.0,318.5 309.0,315.5 309.0,307.2 308.0,301.8 308.0,309.5 307.0,308.2 307.0,300.5 306.0,307.0 306.0,310.3 305.0,314.0 305.0,311.0 304.0,316.2 304.0,323.8 303.0,328.7 303.0,321.3 302.0,325.6 302.0,329.0 301.0,329.4 301.0,326.0 300.0,321.7 300.0,325.9 299.0,318.6 299.0,314.0 298.0,306.7 298.0,309.0 297.0,303.1 297.0,300.6 296.0,294.6 296.0,296.4 295.0,293.5 295.0,291.6 294.0,290.4 294.0,290.4 293.0,286.8 293.0,286.6 292.0,283.7 292.0,288.7 291.0,286.2 291.0,281.1 290.0,277.4 290.0,281.2 289.0,277.3 289.0,273.4 288.0,274.1 288.0,278.2 287.0,282.3 287.0,278.5 286.0,287.5 286.0,288.4 285.0,294.6 285.0,293.8 284.0,293.4 284.0,296.8 283.0,297.5 283.0,294.2 282.0,293.2 282.0,297.7 281.0,299.6 281.0,295.2 280.0,299.0 280.0,307.4 279.0,309.3 279.0,300.9 278.0,301.7 278.0,302.6 277.0,300.7 277.0,299.8 276.0,294.1 276.0,295.4 275.0,291.5 275.0,290.0 274.0,289.9 274.0,297.1 273.0,299.3 273.0,292.0 272.0,293.6 272.0,294.0 271.0,300.7 271.0,300.7 270.0,302.3 270.0,305.4 269.0,301.5 269.0,298.2 268.0,294.4 268.0,294.6 267.0,290.9 267.0,290.6 266.0,287.4 266.0,294.4 265.0,290.1 265.0,283.0 264.0,279.2 264.0,287.2 263.0,291.4 263.0,283.5 262.0,284.2 262.0,287.4 261.0,288.4 261.0,285.2 260.0,285.9 260.0,286.5 259.0,287.0 259.0,286.4 258.0,288.5 258.0,293.8 257.0,295.3 257.0,290.0 256.0,293.8 256.0,300.2 255.0,303.6 255.0,297.4 254.0,295.3 254.0,297.8 253.0,296.4 253.0,293.8 252.0,290.0 252.0,298.1 251.0,295.2 251.0,286.9 250.0,287.2 250.0,292.1 249.0,290.1 249.0,285.1 248.0,284.0 248.0,289.8 247.0,289.3 247.0,283.5 246.0,283.1 246.0,288.6 245.0,288.6 245.0,283.1 244.0,283.4 244.0,290.1 243.0,290.6 243.0,283.9 242.0,289.1 242.0,297.4 241.0,307.0 241.0,299.1 240.0,303.1 240.0,308.1 239.0,308.5 239.0,303.6 238.0,303.1 238.0,308.9 237.0,306.9 237.0,301.1 236.0,299.9 236.0,304.7 235.0,305.7 235.0,300.9 234.0,301.5 234.0,306.1 233.0,308.0 233.0,303.6 232.0,306.1 232.0,307.6 231.0,312.5 231.0,311.2 230.0,316.5 230.0,323.8 229.0,322.8 229.0,315.5 228.0,312.6 228.0,313.6 227.0,315.6 227.0,314.7 226.0,318.6 226.0,320.1 225.0,322.1 225.0,320.6 224.0,320.8 224.0,326.4 223.0,323.5 223.0,317.7 222.0,312.8 222.0,314.9 221.0,312.0 221.0,309.7 220.0,308.7 220.0,311.1 219.0,309.2 219.0,306.6 218.0,305.4 218.0,307.7 217.0,305.2 217.0,302.9 216.0,301.2 216.0,305.4 215.0,304.4 215.0,300.2 214.0,297.9 214.0,304.7 213.0,304.2 213.0,297.3 212.0,296.1 212.0,301.6 211.0,298.7 211.0,293.0 210.0,292.6 210.0,301.0 209.0,303.9 209.0,295.7 208.0,300.2 208.0,304.2 207.0,309.1 207.0,305.3 206.0,304.7 206.0,312.0 205.0,307.1 205.0,299.6 204.0,295.7 204.0,303.5 203.0,300.5 203.0,292.7 202.0,290.7 202.0,295.2 201.0,294.3 201.0,289.7 200.0,288.5 200.0,294.9 199.0,293.9 199.0,287.5 198.0,287.0 198.0,287.6 197.0,286.6 197.0,286.0 196.0,287.9 196.0,289.3 195.0,291.2 195.0,289.9 194.0,292.6 194.0,295.2 193.0,297.5 193.0,294.9 192.0,291.3 192.0,296.3 191.0,292.8 191.0,287.7 190.0,284.3 190.0,287.8 189.0,283.8 189.0,280.2 188.0,275.5 188.0,281.7 187.0,281.6 187.0,275.4 186.0,279.8 186.0,287.7 185.0,290.7 185.0,282.9 184.0,284.0 184.0,292.9 183.0,293.9 183.0,285.0 182.0,286.5 182.0,292.5 181.0,293.5 181.0,287.5 180.0,287.4 180.0,295.2 179.0,298.2 179.0,290.5 178.0,293.6 178.0,298.0 177.0,301.0 177.0,296.6 176.0,300.6 176.0,308.3 175.0,311.2 175.0,303.7 174.0,302.2 174.0,307.7 173.0,300.8 173.0,295.1 172.0,287.4 172.0,295.3 171.0,288.4 171.0,280.3 170.0,277.1 170.0,281.2 169.0,280.2 169.0,276.1 168.0,276.1 168.0,282.1 167.0,283.1 167.0,277.1 166.0,280.3 166.0,287.8 165.0,290.4 165.0,283.0 164.0,281.7 164.0,287.9 163.0,287.1 163.0,280.9 162.0,279.2 162.0,286.9 161.0,286.4 161.0,278.7 160.0,279.3 160.0,281.6 159.0,282.1 159.0,279.8 158.0,282.8 158.0,287.1 157.0,290.0 157.0,285.8 156.0,290.7 156.0,292.2 155.0,296.5 155.0,295.2 154.0,299.1 154.0,305.5 153.0,309.8 153.0,303.5 152.0,306.9 152.0,311.6 151.0,313.2 151.0,308.6 150.0,308.2 150.0,316.2 149.0,316.0 149.0,308.0 148.0,308.0 148.0,311.4 147.0,313.0 147.0,309.6 146.0,311.7 146.0,318.7 145.0,322.0 145.0,315.2 144.0,319.7 144.0,327.3 143.0,323.4 143.0,315.6 142.0,311.0 142.0,315.9 141.0,311.0 141.0,305.9 140.0,302.5 140.0,306.1 139.0,304.1 139.0,300.5 138.0,297.2 138.0,299.3 137.0,296.9 137.0,294.6 136.0,293.0 136.0,297.0 135.0,298.9 135.0,294.9 134.0,300.1 134.0,306.5 133.0,310.8 133.0,304.7 132.0,310.8 132.0,319.2 131.0,325.4 131.0,317.3 130.0,324.7 130.0,330.7 129.0,325.9 129.0,319.9 128.0,314.5 128.0,318.7 127.0,313.8 127.0,309.4 126.0,306.1 126.0,312.3 125.0,314.3 125.0,308.1 124.0,311.8 124.0,316.2 123.0,318.1 123.0,313.8 122.0,314.2 122.0,316.1 121.0,317.0 121.0,315.2 120.0,315.9 120.0,321.3 119.0,321.3 119.0,315.9 118.0,315.2 118.0,324.0 117.0,324.0 117.0,315.2 116.0,316.9 116.0,319.9 115.0,321.9 115.0,318.9 114.0,321.1 114.0,322.0 113.0,324.9 113.0,324.1 112.0,324.5 112.0,326.7 111.0,326.7 111.0,324.5 110.0,325.1 110.0,334.4 109.0,335.4 109.0,326.2 108.0,329.0 108.0,334.7 107.0,337.8 107.0,332.2 106.0,335.7 106.0,337.1 105.0,340.2 105.0,339.0 104.0,340.9 104.0,348.2 103.0,353.1 103.0,346.0 102.0,352.1 102.0,355.6 101.0,365.8 101.0,362.7 100.0,374.6 100.0,377.7 99.0,386.7 99.0,383.8" fill="#cb181d"/>
</g>
<g id="axes-a" stroke="#1c1c1c" stroke-width="1.5" fill="none">
<path d="M98 79.8V414"/>
<path d="M97.3 400.6H460.3"/>
<path d="M84 80.5H98"/>
<path d="M84 171H98"/>
<path d="M84 261.6H98"/>
<path d="M84 352.1H98"/>
<path d="M227.4 400.6V414"/>
<path d="M356.5 400.6V414"/>
</g>
<g id="inset">
<g stroke="#2a2a2a" stroke-width="1.1" fill="none">
<path d="M167.5 3.5H172.6V121"/>
<path d="M167.5 116.9H320.3"/>
<path d="M246.3 116.9V121"/><path d="M320 116.9V121"/>
</g>
<path d="M172.60 116.5 L172.70 116.5 L172.80 116.5 L172.89 116.5 L172.99 116.5 L173.09 116.5 L173.19 116.5 L173.29 116.5 L173.39 116.5 L173.48 116.5 L173.58 116.5 L173.68 116.5 L173.78 116.5 L173.88 116.5 L173.98 116.5 L174.07 116.5 L174.17 116.5 L174.27 116.5 L174.37 116.5 L174.47 116.5 L174.57 116.5 L174.66 116.5 L174.76 116.5 L174.86 116.5 L174.96 116.5 L175.06 116.5 L175.16 116.5 L175.25 116.5 L175.35 116.5 L175.45 116.5 L175.55 116.5 L175.65 116.5 L175.75 116.5 L175.84 116.5 L175.94 116.5 L176.04 116.5 L176.14 116.5 L176.24 116.5 L176.34 116.5 L176.43 116.5 L176.53 116.5 L176.63 116.5 L176.73 116.5 L176.83 116.5 L176.93 116.5 L177.02 116.5 L177.12 116.5 L177.22 116.5 L177.32 116.5 L177.42 116.5 L177.52 116.5 L177.61 116.5 L177.71 116.5 L177.81 116.5 L177.91 116.5 L178.01 116.5 L178.11 116.5 L178.20 116.5 L178.30 116.5 L178.40 116.5 L178.50 116.5 L178.60 116.5 L178.70 116.5 L178.79 116.5 L178.89 116.5 L178.99 116.5 L179.09 116.5 L179.19 116.5 L179.29 116.5 L179.38 116.5 L179.48 116.5 L179.58 116.5 L179.68 116.5 L179.78 116.5 L179.88 116.5 L179.97 116.5 L180.07 116.5 L180.17 116.5 L180.27 116.5 L180.37 116.5 L180.47 116.5 L180.56 116.5 L180.66 116.5 L180.76 116.5 L180.86 116.5 L180.96 116.5 L181.06 116.5 L181.15 116.5 L181.25 116.5 L181.35 116.5 L181.45 116.5 L181.55 116.5 L181.65 116.5 L181.74 116.5 L181.84 116.5 L181.94 116.5 L182.04 116.5 L182.14 116.5 L182.24 116.5 L182.33 116.5 L182.43 116.5 L182.53 116.5 L182.63 116.5 L182.73 116.5 L182.83 116.5 L182.92 116.5 L183.02 116.5 L183.12 116.5 L183.22 116.5 L183.32 116.5 L183.42 116.5 L183.51 116.5 L183.61 116.5 L183.71 116.5 L183.81 116.5 L183.91 116.5 L184.01 116.5 L184.10 116.5 L184.20 116.5 L184.30 116.5 L184.40 116.5 L184.50 116.5 L184.60 116.5 L184.69 116.5 L184.79 116.5 L184.89 116.5 L184.99 116.5 L185.09 116.5 L185.19 116.5 L185.28 116.5 L185.38 116.5 L185.48 116.5 L185.58 116.5 L185.68 116.5 L185.78 116.5 L185.87 116.5 L185.97 116.5 L186.07 116.5 L186.17 116.5 L186.27 116.5 L186.37 116.5 L186.46 116.5 L186.56 116.5 L186.66 116.5 L186.76 116.5 L186.86 116.5 L186.96 116.5 L187.05 116.5 L187.15 116.5 L187.25 116.5 L187.35 116.5 L187.45 116.5 L187.55 116.5 L187.64 116.5 L187.74 116.5 L187.84 116.5 L187.94 116.5 L188.04 116.5 L188.14 116.5 L188.23 116.5 L188.33 116.5 L188.43 116.5 L188.53 116.5 L188.63 116.5 L188.73 116.5 L188.82 116.5 L188.92 116.5 L189.02 116.5 L189.12 116.5 L189.22 116.5 L189.32 116.5 L189.41 116.5 L189.51 116.5 L189.61 116.5 L189.71 116.5 L189.81 116.5 L189.91 116.5 L190.00 116.5 L190.10 116.5 L190.20 116.5 L190.30 116.5 L190.40 116.5 L190.50 116.5 L190.59 116.5 L190.69 116.5 L190.79 116.5 L190.89 116.5 L190.99 116.5 L191.09 116.5 L191.18 116.5 L191.28 116.5 L191.38 116.5 L191.48 116.5 L191.58 116.5 L191.68 116.5 L191.77 116.5 L191.87 116.5 L191.97 116.5 L192.07 116.5 L192.17 116.5 L192.27 116.5 L192.36 116.5 L192.46 116.5 L192.56 116.5 L192.66 116.5 L192.76 116.5 L192.86 116.5 L192.95 116.5 L193.05 116.5 L193.15 116.5 L193.25 116.5 L193.35 116.5 L193.45 116.5 L193.54 116.5 L193.64 116.5 L193.74 116.5 L193.84 116.5 L193.94 116.5 L194.04 116.5 L194.13 116.5 L194.23 116.5 L194.33 116.5 L194.43 116.5 L194.53 116.5 L194.63 116.5 L194.72 116.5 L194.82 116.5 L194.92 116.5 L195.02 116.5 L195.12 116.5 L195.22 116.5 L195.31 116.5 L195.41 116.5 L195.51 116.5 L195.61 116.5 L195.71 116.5 L195.81 116.5 L195.90 116.5 L196.00 116.5 L196.10 116.5 L196.20 116.5 L196.30 116.5 L196.40 116.5 L196.49 116.5 L196.59 116.5 L196.69 116.5 L196.79 116.5 L196.89 116.5 L196.99 116.5 L197.08 116.5 L197.18 116.5 L197.28 116.5 L197.38 116.5 L197.48 116.5 L197.58 116.5 L197.67 116.5 L197.77 116.5 L197.87 116.5 L197.97 116.5 L198.07 116.5 L198.17 116.5 L198.26 116.5 L198.36 116.5 L198.46 116.5 L198.56 116.5 L198.66 116.5 L198.76 116.5 L198.85 116.5 L198.95 116.5 L199.05 116.5 L199.15 116.5 L199.25 116.5 L199.35 116.5 L199.44 116.5 L199.54 116.5 L199.64 116.5 L199.74 116.5 L199.84 116.5 L199.94 116.5 L200.03 116.5 L200.13 116.5 L200.23 116.5 L200.33 116.5 L200.43 116.5 L200.53 116.5 L200.62 116.5 L200.72 116.5 L200.82 116.5 L200.92 116.5 L201.02 116.5 L201.12 116.5 L201.21 116.5 L201.31 116.5 L201.41 116.5 L201.51 116.5 L201.61 116.5 L201.71 116.5 L201.80 116.5 L201.90 116.5 L202.00 116.5 L202.10 116.5 L202.20 116.5 L202.30 116.5 L202.39 116.5 L202.49 116.5 L202.59 116.5 L202.69 116.5 L202.79 116.5 L202.89 116.5 L202.98 116.5 L203.08 116.5 L203.18 116.5 L203.28 116.5 L203.38 116.5 L203.48 116.5 L203.57 116.5 L203.67 116.5 L203.77 116.5 L203.87 116.5 L203.97 116.5 L204.07 116.5 L204.16 116.5 L204.26 116.5 L204.36 116.5 L204.46 116.5 L204.56 116.5 L204.66 116.5 L204.75 116.5 L204.85 116.5 L204.95 116.5 L205.05 116.5 L205.15 116.5 L205.25 116.5 L205.34 116.5 L205.44 116.5 L205.54 116.5 L205.64 116.5 L205.74 116.5 L205.84 116.5 L205.93 116.5 L206.03 116.5 L206.13 116.5 L206.23 116.5 L206.33 116.5 L206.43 116.5 L206.52 116.5 L206.62 116.5 L206.72 116.5 L206.82 116.5 L206.92 116.5 L207.02 116.5 L207.11 116.5 L207.21 116.5 L207.31 116.5 L207.41 116.5 L207.51 116.5 L207.61 116.5 L207.70 116.5 L207.80 116.5 L207.90 116.5 L208.00 116.5 L208.10 116.5 L208.20 116.5 L208.29 116.5 L208.39 116.5 L208.49 116.5 L208.59 116.5 L208.69 116.5 L208.79 116.5 L208.88 116.5 L208.98 116.5 L209.08 116.5 L209.18 116.5 L209.28 116.5 L209.38 116.5 L209.47 116.5 L209.57 116.5 L209.67 116.5 L209.77 116.5 L209.87 116.5 L209.97 116.5 L210.06 116.5 L210.16 116.5 L210.26 116.5 L210.36 116.5 L210.46 116.5 L210.56 116.5 L210.65 116.5 L210.75 116.5 L210.85 116.5 L210.95 116.5 L211.05 116.5 L211.15 116.5 L211.24 116.5 L211.34 116.5 L211.44 116.5 L211.54 116.5 L211.64 116.5 L211.74 116.5 L211.83 116.5 L211.93 116.5 L212.03 116.5 L212.13 116.5 L212.23 116.5 L212.33 116.5 L212.42 116.5 L212.52 116.5 L212.62 116.5 L212.72 116.5 L212.82 116.5 L212.92 116.5 L213.01 116.5 L213.11 116.5 L213.21 116.5 L213.31 116.5 L213.41 116.5 L213.51 116.5 L213.60 116.5 L213.70 116.5 L213.80 116.5 L213.90 116.5 L214.00 116.5 L214.10 116.5 L214.19 116.5 L214.29 116.5 L214.39 116.5 L214.49 116.5 L214.59 116.5 L214.69 116.5 L214.78 116.5 L214.88 116.5 L214.98 116.5 L215.08 116.5 L215.18 116.5 L215.28 116.5 L215.37 116.5 L215.47 116.5 L215.57 116.5 L215.67 116.5 L215.77 116.5 L215.87 116.5 L215.96 116.5 L216.06 116.5 L216.16 116.5 L216.26 116.5 L216.36 116.5 L216.46 116.5 L216.55 116.5 L216.65 116.5 L216.75 116.5 L216.85 116.5 L216.95 116.5 L217.05 116.5 L217.14 116.5 L217.24 116.5 L217.34 116.5 L217.44 116.5 L217.54 116.5 L217.64 116.5 L217.73 116.5 L217.83 116.5 L217.93 116.5 L218.03 116.5 L218.13 116.5 L218.23 116.5 L218.32 116.5 L218.42 116.5 L218.52 116.5 L218.62 116.5 L218.72 116.5 L218.82 116.4 L218.91 116.4 L219.01 116.4 L219.11 116.4 L219.21 116.4 L219.31 116.4 L219.41 116.4 L219.50 116.4 L219.60 116.4 L219.70 116.4 L219.80 116.4 L219.90 116.4 L220.00 116.4 L220.09 116.4 L220.19 116.4 L220.29 116.4 L220.39 116.4 L220.49 116.4 L220.59 116.4 L220.68 116.4 L220.78 116.4 L220.88 116.4 L220.98 116.4 L221.08 116.4 L221.18 116.4 L221.27 116.4 L221.37 116.4 L221.47 116.4 L221.57 116.4 L221.67 116.4 L221.77 116.4 L221.86 116.4 L221.96 116.4 L222.06 116.4 L222.16 116.4 L222.26 116.4 L222.36 116.4 L222.45 116.4 L222.55 116.4 L222.65 116.4 L222.75 116.4 L222.85 116.4 L222.95 116.4 L223.04 116.4 L223.14 116.4 L223.24 116.4 L223.34 116.4 L223.44 116.4 L223.54 116.4 L223.63 116.4 L223.73 116.4 L223.83 116.4 L223.93 116.4 L224.03 116.4 L224.13 116.4 L224.22 116.4 L224.32 116.4 L224.42 116.4 L224.52 116.4 L224.62 116.4 L224.72 116.4 L224.81 116.4 L224.91 116.4 L225.01 116.4 L225.11 116.4 L225.21 116.4 L225.31 116.4 L225.40 116.4 L225.50 116.4 L225.60 116.4 L225.70 116.4 L225.80 116.4 L225.90 116.4 L225.99 116.4 L226.09 116.4 L226.19 116.4 L226.29 116.4 L226.39 116.4 L226.49 116.4 L226.58 116.4 L226.68 116.4 L226.78 116.4 L226.88 116.4 L226.98 116.4 L227.08 116.4 L227.17 116.4 L227.27 116.4 L227.37 116.4 L227.47 116.4 L227.57 116.4 L227.67 116.4 L227.76 116.4 L227.86 116.4 L227.96 116.4 L228.06 116.4 L228.16 116.4 L228.26 116.4 L228.35 116.4 L228.45 116.4 L228.55 116.4 L228.65 116.4 L228.75 116.4 L228.85 116.4 L228.94 116.4 L229.04 116.4 L229.14 116.4 L229.24 116.4 L229.34 116.4 L229.44 116.4 L229.53 116.4 L229.63 116.4 L229.73 116.4 L229.83 116.4 L229.93 116.4 L230.03 116.4 L230.12 116.4 L230.22 116.4 L230.32 116.4 L230.42 116.4 L230.52 116.4 L230.62 116.3 L230.71 116.3 L230.81 116.3 L230.91 116.3 L231.01 116.3 L231.11 116.3 L231.21 116.3 L231.30 116.3 L231.40 116.3 L231.50 116.3 L231.60 116.3 L231.70 116.3 L231.80 116.3 L231.89 116.3 L231.99 116.3 L232.09 116.3 L232.19 116.3 L232.29 116.3 L232.39 116.3 L232.48 116.3 L232.58 116.3 L232.68 116.3 L232.78 116.3 L232.88 116.3 L232.98 116.3 L233.07 116.3 L233.17 116.3 L233.27 116.3 L233.37 116.3 L233.47 116.3 L233.57 116.3 L233.66 116.3 L233.76 116.3 L233.86 116.3 L233.96 116.3 L234.06 116.3 L234.16 116.3 L234.25 116.3 L234.35 116.2 L234.45 116.2 L234.55 116.2 L234.65 116.2 L234.75 116.2 L234.84 116.2 L234.94 116.2 L235.04 116.2 L235.14 116.2 L235.24 116.2 L235.34 116.2 L235.43 116.2 L235.53 116.2 L235.63 116.2 L235.73 116.2 L235.83 116.2 L235.93 116.2 L236.02 116.2 L236.12 116.2 L236.22 116.2 L236.32 116.1 L236.42 116.1 L236.52 116.1 L236.61 116.1 L236.71 116.1 L236.81 116.1 L236.91 116.1 L237.01 116.1 L237.11 116.1 L237.20 116.1 L237.30 116.1 L237.40 116.1 L237.50 116.1 L237.60 116.0 L237.70 116.0 L237.79 116.0 L237.89 116.0 L237.99 116.0 L238.09 116.0 L238.19 116.0 L238.29 116.0 L238.38 116.0 L238.48 115.9 L238.58 115.9 L238.68 115.9 L238.78 115.9 L238.88 115.9 L238.97 115.9 L239.07 115.9 L239.17 115.8 L239.27 115.8 L239.37 115.8 L239.47 115.8 L239.56 115.8 L239.66 115.8 L239.76 115.7 L239.86 115.7 L239.96 115.7 L240.06 115.7 L240.15 115.7 L240.25 115.6 L240.35 115.6 L240.45 115.6 L240.55 115.6 L240.65 115.5 L240.74 115.5 L240.84 115.5 L240.94 115.4 L241.04 115.4 L241.14 115.4 L241.24 115.3 L241.33 115.3 L241.43 115.3 L241.53 115.2 L241.63 115.2 L241.73 115.1 L241.83 115.1 L241.92 115.0 L242.02 115.0 L242.12 114.9 L242.22 114.9 L242.32 114.8 L242.42 114.8 L242.51 114.7 L242.61 114.6 L242.71 114.6 L242.81 114.5 L242.91 114.4 L243.01 114.3 L243.10 114.2 L243.20 114.1 L243.30 114.0 L243.40 113.9 L243.50 113.8 L243.60 113.7 L243.69 113.6 L243.79 113.5 L243.89 113.3 L243.99 113.2 L244.09 113.0 L244.19 112.9 L244.28 112.7 L244.38 112.5 L244.48 112.3 L244.58 112.1 L244.68 111.9 L244.78 111.6 L244.87 111.4 L244.97 111.1 L245.07 110.7 L245.17 110.3 L245.27 109.8 L245.37 109.2 L245.46 108.4 L245.56 107.4 L245.66 106.0 L245.76 103.9 L245.86 100.5 L245.96 94.6 L246.05 83.4 L246.15 60.9 L246.25 26.9 L246.35 24.1 L246.45 60.7 L246.55 82.9 L246.64 93.1 L246.74 100.0 L246.84 102.8 L246.94 105.0 L247.04 105.1 L247.14 106.6 L247.23 105.7 L247.33 107.1 L247.43 106.7 L247.53 108.3 L247.63 106.2 L247.73 103.7 L247.82 104.1 L247.92 98.0 L248.02 92.0 L248.12 91.6 L248.22 95.4 L248.32 102.2 L248.41 105.8 L248.51 105.5 L248.61 108.8 L248.71 109.9 L248.81 109.2 L248.91 110.9 L249.00 111.3 L249.10 108.6 L249.20 110.7 L249.30 107.6 L249.40 105.4 L249.50 104.2 L249.59 101.7 L249.69 102.2 L249.79 105.7 L249.89 107.8 L249.99 108.6 L250.09 111.8 L250.18 112.5 L250.28 110.6 L250.38 113.0 L250.48 110.9 L250.58 111.1 L250.68 110.7 L250.77 111.5 L250.87 110.5 L250.97 107.6 L251.07 104.2 L251.17 100.1 L251.27 102.3 L251.36 106.1 L251.46 108.1 L251.56 111.0 L251.66 111.1 L251.76 112.4 L251.86 113.9 L251.95 113.5 L252.05 114.4 L252.15 114.6 L252.25 114.1 L252.35 114.8 L252.45 114.9 L252.54 114.6 L252.64 114.9 L252.74 114.1 L252.84 114.7 L252.94 114.6 L253.04 114.0 L253.13 113.7 L253.23 112.5 L253.33 111.5 L253.43 109.5 L253.53 108.3 L253.63 107.0 L253.72 108.0 L253.82 111.1 L253.92 112.9 L254.02 113.5 L254.12 114.3 L254.22 114.7 L254.31 114.4 L254.41 114.4 L254.51 115.1 L254.61 114.7 L254.71 115.2 L254.81 114.3 L254.90 115.0 L255.00 114.9 L255.10 115.0 L255.20 114.7 L255.30 114.6 L255.40 113.6 L255.49 113.8 L255.59 112.6 L255.69 111.2 L255.79 107.7 L255.89 104.1 L255.99 101.8 L256.08 104.8 L256.18 108.8 L256.28 111.1 L256.38 112.2 L256.48 113.9 L256.58 114.3 L256.67 114.7 L256.77 115.1 L256.87 114.9 L256.97 115.2 L257.07 115.3 L257.17 114.9 L257.26 115.2 L257.36 115.5 L257.46 114.8 L257.56 114.8 L257.66 115.1 L257.76 115.4 L257.85 115.0 L257.95 115.1 L258.05 114.7 L258.15 114.1 L258.25 113.2 L258.35 111.4 L258.44 109.3 L258.54 107.5 L258.64 109.0 L258.74 111.2 L258.84 113.2 L258.94 113.7 L259.03 114.3 L259.13 114.6 L259.23 114.7 L259.33 115.1 L259.43 115.6 L259.53 115.1 L259.62 115.3 L259.72 115.6 L259.82 115.7 L259.92 115.1 L260.02 115.7 L260.12 115.6 L260.21 115.4 L260.31 115.0 L260.41 115.1 L260.51 114.8 L260.61 113.9 L260.71 113.0 L260.80 111.3 L260.90 108.6 L261.00 106.8 L261.10 108.5 L261.20 111.4 L261.30 113.2 L261.39 113.8 L261.49 114.5 L261.59 115.1 L261.69 115.4 L261.79 115.3 L261.89 115.7 L261.98 115.8 L262.08 115.8 L262.18 115.7 L262.28 115.8 L262.38 115.8 L262.48 116.1 L262.57 116.1 L262.67 115.9 L262.77 116.0 L262.87 115.8 L262.97 116.1 L263.07 115.7 L263.16 116.0 L263.26 116.1 L263.36 116.1 L263.46 116.1 L263.56 115.7 L263.66 115.8 L263.75 115.6 L263.85 115.6 L263.95 115.7 L264.05 115.6 L264.15 115.3 L264.25 114.9 L264.34 114.1 L264.44 112.7 L264.54 111.2 L264.64 111.0 L264.74 112.6 L264.84 114.1 L264.93 114.9 L265.03 115.3 L265.13 115.5 L265.23 115.5 L265.33 115.9 L265.43 116.0 L265.52 116.1 L265.62 116.1 L265.72 116.0 L265.82 116.2 L265.92 116.1 L266.02 116.0 L266.11 116.0 L266.21 116.2 L266.31 116.2 L266.41 116.2 L266.51 116.0 L266.61 116.1 L266.70 116.2 L266.80 116.1 L266.90 116.0 L267.00 116.1 L267.10 116.0 L267.20 115.7 L267.29 115.6 L267.39 115.1 L267.49 114.3 L267.59 113.7 L267.69 114.0 L267.79 114.8 L267.88 115.4 L267.98 115.8 L268.08 115.9 L268.18 116.0 L268.28 116.1 L268.38 116.1 L268.47 116.2 L268.57 116.3 L268.67 116.3 L268.77 116.3 L268.87 116.3 L268.97 116.3 L269.06 116.3 L269.16 116.3 L269.26 116.3 L269.36 116.4 L269.46 116.4 L269.56 116.4 L269.65 116.4 L269.75 116.3 L269.85 116.3 L269.95 116.3 L270.05 116.3 L270.15 116.3 L270.24 116.3 L270.34 116.2 L270.44 116.1 L270.54 115.9 L270.64 115.7 L270.74 115.5 L270.83 115.7 L270.93 116.0 L271.03 116.1 L271.13 116.2 L271.23 116.3 L271.33 116.3 L271.42 116.3 L271.52 116.4 L271.62 116.4 L271.72 116.4 L271.82 116.4 L271.92 116.4 L272.01 116.4 L272.11 116.4 L272.21 116.4 L272.31 116.4 L272.41 116.4 L272.51 116.4 L272.60 116.4 L272.70 116.4 L272.80 116.4 L272.90 116.4 L273.00 116.4 L273.10 116.4 L273.19 116.4 L273.29 116.4 L273.39 116.4 L273.49 116.4 L273.59 116.4 L273.69 116.4 L273.78 116.4 L273.88 116.4 L273.98 116.4 L274.08 116.4 L274.18 116.4 L274.28 116.4 L274.37 116.4 L274.47 116.4 L274.57 116.4 L274.67 116.4 L274.77 116.4 L274.87 116.4 L274.96 116.4 L275.06 116.4 L275.16 116.4 L275.26 116.4 L275.36 116.4 L275.46 116.4 L275.55 116.4 L275.65 116.4 L275.75 116.4 L275.85 116.4 L275.95 116.4 L276.05 116.4 L276.14 116.4 L276.24 116.4 L276.34 116.4 L276.44 116.4 L276.54 116.4 L276.64 116.5 L276.73 116.5 L276.83 116.5 L276.93 116.5 L277.03 116.5 L277.13 116.5 L277.23 116.5 L277.32 116.5 L277.42 116.5 L277.52 116.5 L277.62 116.5 L277.72 116.5 L277.82 116.5 L277.91 116.5 L278.01 116.5 L278.11 116.5 L278.21 116.5 L278.31 116.5 L278.41 116.5 L278.50 116.5 L278.60 116.5 L278.70 116.5 L278.80 116.5 L278.90 116.5 L279.00 116.5 L279.09 116.5 L279.19 116.5 L279.29 116.5 L279.39 116.5 L279.49 116.5 L279.59 116.5 L279.68 116.5 L279.78 116.5 L279.88 116.5 L279.98 116.5 L280.08 116.5 L280.18 116.5 L280.27 116.5 L280.37 116.5 L280.47 116.5 L280.57 116.5 L280.67 116.5 L280.77 116.5 L280.86 116.5 L280.96 116.5 L281.06 116.5 L281.16 116.5 L281.26 116.5 L281.36 116.5 L281.45 116.5 L281.55 116.5 L281.65 116.5 L281.75 116.5 L281.85 116.5 L281.95 116.5 L282.04 116.5 L282.14 116.5 L282.24 116.5 L282.34 116.5 L282.44 116.5 L282.54 116.5 L282.63 116.5 L282.73 116.5 L282.83 116.5 L282.93 116.5 L283.03 116.5 L283.13 116.5 L283.22 116.5 L283.32 116.5 L283.42 116.5 L283.52 116.5 L283.62 116.5 L283.72 116.5 L283.81 116.5 L283.91 116.5 L284.01 116.5 L284.11 116.5 L284.21 116.5 L284.31 116.5 L284.40 116.5 L284.50 116.5 L284.60 116.5 L284.70 116.5 L284.80 116.5 L284.90 116.5 L284.99 116.5 L285.09 116.5 L285.19 116.5 L285.29 116.5 L285.39 116.5 L285.49 116.5 L285.58 116.5 L285.68 116.5 L285.78 116.5 L285.88 116.5 L285.98 116.5 L286.08 116.5 L286.17 116.5 L286.27 116.5 L286.37 116.5 L286.47 116.5 L286.57 116.5 L286.67 116.5 L286.76 116.5 L286.86 116.5 L286.96 116.5 L287.06 116.5 L287.16 116.5 L287.26 116.5 L287.35 116.5 L287.45 116.5 L287.55 116.5 L287.65 116.5 L287.75 116.5 L287.85 116.5 L287.94 116.5 L288.04 116.5 L288.14 116.5 L288.24 116.5 L288.34 116.5 L288.44 116.5 L288.53 116.5 L288.63 116.5 L288.73 116.5 L288.83 116.5 L288.93 116.5 L289.03 116.5 L289.12 116.5 L289.22 116.5 L289.32 116.5 L289.42 116.5 L289.52 116.5 L289.62 116.5 L289.71 116.5 L289.81 116.5 L289.91 116.5 L290.01 116.5 L290.11 116.5 L290.21 116.5 L290.30 116.5 L290.40 116.5 L290.50 116.5 L290.60 116.5 L290.70 116.5 L290.80 116.5 L290.89 116.5 L290.99 116.5 L291.09 116.5 L291.19 116.5 L291.29 116.5 L291.39 116.5 L291.48 116.5 L291.58 116.5 L291.68 116.5 L291.78 116.5 L291.88 116.5 L291.98 116.5 L292.07 116.5 L292.17 116.5 L292.27 116.5 L292.37 116.5 L292.47 116.5 L292.57 116.5 L292.66 116.5 L292.76 116.5 L292.86 116.5 L292.96 116.5 L293.06 116.5 L293.16 116.5 L293.25 116.5 L293.35 116.5 L293.45 116.5 L293.55 116.5 L293.65 116.5 L293.75 116.5 L293.84 116.5 L293.94 116.5 L294.04 116.5 L294.14 116.5 L294.24 116.5 L294.34 116.5 L294.43 116.5 L294.53 116.5 L294.63 116.5 L294.73 116.5 L294.83 116.5 L294.93 116.5 L295.02 116.5 L295.12 116.5 L295.22 116.5 L295.32 116.5 L295.42 116.5 L295.52 116.5 L295.61 116.5 L295.71 116.5 L295.81 116.5 L295.91 116.5 L296.01 116.5 L296.11 116.5 L296.20 116.5 L296.30 116.5 L296.40 116.5 L296.50 116.5 L296.60 116.5 L296.70 116.5 L296.79 116.5 L296.89 116.5 L296.99 116.5 L297.09 116.5 L297.19 116.5 L297.29 116.5 L297.38 116.5 L297.48 116.5 L297.58 116.5 L297.68 116.5 L297.78 116.5 L297.88 116.5 L297.97 116.5 L298.07 116.5 L298.17 116.5 L298.27 116.5 L298.37 116.5 L298.47 116.5 L298.56 116.5 L298.66 116.5 L298.76 116.5 L298.86 116.5 L298.96 116.5 L299.06 116.5 L299.15 116.5 L299.25 116.5 L299.35 116.5 L299.45 116.5 L299.55 116.5 L299.65 116.5 L299.74 116.5 L299.84 116.5 L299.94 116.5 L300.04 116.5 L300.14 116.5 L300.24 116.5 L300.33 116.5 L300.43 116.5 L300.53 116.5 L300.63 116.5 L300.73 116.5 L300.83 116.5 L300.92 116.5 L301.02 116.5 L301.12 116.5 L301.22 116.5 L301.32 116.5 L301.42 116.5 L301.51 116.5 L301.61 116.5 L301.71 116.5 L301.81 116.5 L301.91 116.5 L302.01 116.5 L302.10 116.5 L302.20 116.5 L302.30 116.5 L302.40 116.5 L302.50 116.5 L302.60 116.5 L302.69 116.5 L302.79 116.5 L302.89 116.5 L302.99 116.5 L303.09 116.5 L303.19 116.5 L303.28 116.5 L303.38 116.5 L303.48 116.5 L303.58 116.5 L303.68 116.5 L303.78 116.5 L303.87 116.5 L303.97 116.5 L304.07 116.5 L304.17 116.5 L304.27 116.5 L304.37 116.5 L304.46 116.5 L304.56 116.5 L304.66 116.5 L304.76 116.5 L304.86 116.5 L304.96 116.5 L305.05 116.5 L305.15 116.5 L305.25 116.5 L305.35 116.5 L305.45 116.5 L305.55 116.5 L305.64 116.5 L305.74 116.5 L305.84 116.5 L305.94 116.5 L306.04 116.5 L306.14 116.5 L306.23 116.5 L306.33 116.5 L306.43 116.5 L306.53 116.5 L306.63 116.5 L306.73 116.5 L306.82 116.5 L306.92 116.5 L307.02 116.5 L307.12 116.5 L307.22 116.5 L307.32 116.5 L307.41 116.5 L307.51 116.5 L307.61 116.5 L307.71 116.5 L307.81 116.5 L307.91 116.5 L308.00 116.5 L308.10 116.5 L308.20 116.5 L308.30 116.5 L308.40 116.5 L308.50 116.5 L308.59 116.5 L308.69 116.5 L308.79 116.5 L308.89 116.5 L308.99 116.5 L309.09 116.5 L309.18 116.5 L309.28 116.5 L309.38 116.5 L309.48 116.5 L309.58 116.5 L309.68 116.5 L309.77 116.5 L309.87 116.5 L309.97 116.5 L310.07 116.5 L310.17 116.5 L310.27 116.5 L310.36 116.5 L310.46 116.5 L310.56 116.5 L310.66 116.5 L310.76 116.5 L310.86 116.5 L310.95 116.5 L311.05 116.5 L311.15 116.5 L311.25 116.5 L311.35 116.5 L311.45 116.5 L311.54 116.5 L311.64 116.5 L311.74 116.5 L311.84 116.5 L311.94 116.5 L312.04 116.5 L312.13 116.5 L312.23 116.5 L312.33 116.5 L312.43 116.5 L312.53 116.5 L312.63 116.5 L312.72 116.5 L312.82 116.5 L312.92 116.5 L313.02 116.5 L313.12 116.5 L313.22 116.5 L313.31 116.5 L313.41 116.5 L313.51 116.5 L313.61 116.5 L313.71 116.5 L313.81 116.5 L313.90 116.5 L314.00 116.5 L314.10 116.5 L314.20 116.5 L314.30 116.5 L314.40 116.5 L314.49 116.5 L314.59 116.5 L314.69 116.5 L314.79 116.5 L314.89 116.5 L314.99 116.5 L315.08 116.5 L315.18 116.5 L315.28 116.5 L315.38 116.5 L315.48 116.5 L315.58 116.5 L315.67 116.5 L315.77 116.5 L315.87 116.5 L315.97 116.5 L316.07 116.5 L316.17 116.5 L316.26 116.5 L316.36 116.5 L316.46 116.5 L316.56 116.5 L316.66 116.5 L316.76 116.5 L316.85 116.5 L316.95 116.5 L317.05 116.5 L317.15 116.5 L317.25 116.5 L317.35 116.5 L317.44 116.5 L317.54 116.5 L317.64 116.5 L317.74 116.5 L317.84 116.5 L317.94 116.5 L318.03 116.5 L318.13 116.5 L318.23 116.5 L318.33 116.5 L318.43 116.5 L318.53 116.5 L318.62 116.5 L318.72 116.5 L318.82 116.5 L318.92 116.5 L319.02 116.5 L319.12 116.5 L319.21 116.5 L319.31 116.5 L319.41 116.5 L319.51 116.5 L319.61 116.5 L319.71 116.5 L319.80 116.5 L319.90 116.5 L320.00 116.5" stroke="#2814ff" stroke-width="0.85" fill="none"/>
<path d="M172.60 116.5 L172.70 116.5 L172.80 116.5 L172.89 116.5 L172.99 116.5 L173.09 116.5 L173.19 116.5 L173.29 116.5 L173.39 116.5 L173.48 116.5 L173.58 116.5 L173.68 116.5 L173.78 116.5 L173.88 116.5 L173.98 116.5 L174.07 116.5 L174.17 116.5 L174.27 116.5 L174.37 116.5 L174.47 116.5 L174.57 116.5 L174.66 116.5 L174.76 116.5 L174.86 116.5 L174.96 116.5 L175.06 116.5 L175.16 116.5 L175.25 116.5 L175.35 116.5 L175.45 116.5 L175.55 116.5 L175.65 116.5 L175.75 116.5 L175.84 116.5 L175.94 116.5 L176.04 116.5 L176.14 116.5 L176.24 116.5 L176.34 116.5 L176.43 116.5 L176.53 116.5 L176.63 116.5 L176.73 116.5 L176.83 116.5 L176.93 116.5 L177.02 116.5 L177.12 116.5 L177.22 116.5 L177.32 116.5 L177.42 116.5 L177.52 116.5 L177.61 116.5 L177.71 116.5 L177.81 116.5 L177.91 116.5 L178.01 116.5 L178.11 116.5 L178.20 116.5 L178.30 116.5 L178.40 116.5 L178.50 116.5 L178.60 116.5 L178.70 116.5 L178.79 116.5 L178.89 116.5 L178.99 116.5 L179.09 116.5 L179.19 116.5 L179.29 116.5 L179.38 116.5 L179.48 116.5 L179.58 116.5 L179.68 116.5 L179.78 116.5 L179.88 116.5 L179.97 116.5 L180.07 116.5 L180.17 116.5 L180.27 116.5 L180.37 116.5 L180.47 116.5 L180.56 116.5 L180.66 116.5 L180.76 116.5 L180.86 116.5 L180.96 116.5 L181.06 116.5 L181.15 116.5 L181.25 116.5 L181.35 116.5 L181.45 116.5 L181.55 116.5 L181.65 116.5 L181.74 116.5 L181.84 116.5 L181.94 116.5 L182.04 116.5 L182.14 116.5 L182.24 116.5 L182.33 116.5 L182.43 116.5 L182.53 116.5 L182.63 116.5 L182.73 116.5 L182.83 116.5 L182.92 116.5 L183.02 116.5 L183.12 116.5 L183.22 116.5 L183.32 116.5 L183.42 116.5 L183.51 116.5 L183.61 116.5 L183.71 116.5 L183.81 116.5 L183.91 116.5 L184.01 116.5 L184.10 116.5 L184.20 116.5 L184.30 116.5 L184.40 116.5 L184.50 116.5 L184.60 116.5 L184.69 116.5 L184.79 116.5 L184.89 116.5 L184.99 116.5 L185.09 116.5 L185.19 116.5 L185.28 116.5 L185.38 116.5 L185.48 116.5 L185.58 116.5 L185.68 116.5 L185.78 116.5 L185.87 116.5 L185.97 116.5 L186.07 116.5 L186.17 116.5 L186.27 116.5 L186.37 116.5 L186.46 116.5 L186.56 116.5 L186.66 116.5 L186.76 116.5 L186.86 116.5 L186.96 116.5 L187.05 116.5 L187.15 116.5 L187.25 116.5 L187.35 116.5 L187.45 116.5 L187.55 116.5 L187.64 116.5 L187.74 116.5 L187.84 116.5 L187.94 116.5 L188.04 116.5 L188.14 116.5 L188.23 116.5 L188.33 116.5 L188.43 116.5 L188.53 116.5 L188.63 116.5 L188.73 116.5 L188.82 116.5 L188.92 116.5 L189.02 116.5 L189.12 116.5 L189.22 116.5 L189.32 116.5 L189.41 116.5 L189.51 116.5 L189.61 116.5 L189.71 116.5 L189.81 116.5 L189.91 116.5 L190.00 116.5 L190.10 116.5 L190.20 116.5 L190.30 116.5 L190.40 116.5 L190.50 116.5 L190.59 116.5 L190.69 116.5 L190.79 116.5 L190.89 116.5 L190.99 116.5 L191.09 116.5 L191.18 116.5 L191.28 116.5 L191.38 116.5 L191.48 116.5 L191.58 116.5 L191.68 116.5 L191.77 116.5 L191.87 116.5 L191.97 116.5 L192.07 116.5 L192.17 116.5 L192.27 116.5 L192.36 116.5 L192.46 116.5 L192.56 116.5 L192.66 116.5 L192.76 116.5 L192.86 116.5 L192.95 116.5 L193.05 116.5 L193.15 116.5 L193.25 116.5 L193.35 116.5 L193.45 116.5 L193.54 116.5 L193.64 116.5 L193.74 116.5 L193.84 116.5 L193.94 116.5 L194.04 116.5 L194.13 116.5 L194.23 116.5 L194.33 116.5 L194.43 116.5 L194.53 116.5 L194.63 116.5 L194.72 116.5 L194.82 116.5 L194.92 116.5 L195.02 116.5 L195.12 116.5 L195.22 116.5 L195.31 116.5 L195.41 116.5 L195.51 116.5 L195.61 116.5 L195.71 116.5 L195.81 116.5 L195.90 116.5 L196.00 116.5 L196.10 116.5 L196.20 116.5 L196.30 116.5 L196.40 116.5 L196.49 116.5 L196.59 116.5 L196.69 116.5 L196.79 116.5 L196.89 116.5 L196.99 116.5 L197.08 116.5 L197.18 116.5 L197.28 116.5 L197.38 116.5 L197.48 116.5 L197.58 116.5 L197.67 116.5 L197.77 116.5 L197.87 116.5 L197.97 116.5 L198.07 116.5 L198.17 116.5 L198.26 116.5 L198.36 116.5 L198.46 116.5 L198.56 116.5 L198.66 116.5 L198.76 116.5 L198.85 116.5 L198.95 116.5 L199.05 116.5 L199.15 116.5 L199.25 116.5 L199.35 116.5 L199.44 116.5 L199.54 116.5 L199.64 116.5 L199.74 116.5 L199.84 116.5 L199.94 116.5 L200.03 116.5 L200.13 116.5 L200.23 116.5 L200.33 116.5 L200.43 116.5 L200.53 116.5 L200.62 116.5 L200.72 116.5 L200.82 116.5 L200.92 116.5 L201.02 116.5 L201.12 116.5 L201.21 116.5 L201.31 116.5 L201.41 116.5 L201.51 116.5 L201.61 116.5 L201.71 116.5 L201.80 116.5 L201.90 116.5 L202.00 116.5 L202.10 116.5 L202.20 116.5 L202.30 116.5 L202.39 116.5 L202.49 116.5 L202.59 116.5 L202.69 116.5 L202.79 116.5 L202.89 116.5 L202.98 116.5 L203.08 116.5 L203.18 116.5 L203.28 116.5 L203.38 116.5 L203.48 116.5 L203.57 116.5 L203.67 116.5 L203.77 116.5 L203.87 116.5 L203.97 116.5 L204.07 116.5 L204.16 116.5 L204.26 116.5 L204.36 116.5 L204.46 116.5 L204.56 116.5 L204.66 116.5 L204.75 116.5 L204.85 116.5 L204.95 116.5 L205.05 116.5 L205.15 116.5 L205.25 116.5 L205.34 116.5 L205.44 116.5 L205.54 116.5 L205.64 116.5 L205.74 116.5 L205.84 116.5 L205.93 116.5 L206.03 116.5 L206.13 116.5 L206.23 116.5 L206.33 116.5 L206.43 116.5 L206.52 116.5 L206.62 116.5 L206.72 116.5 L206.82 116.5 L206.92 116.5 L207.02 116.5 L207.11 116.5 L207.21 116.5 L207.31 116.5 L207.41 116.5 L207.51 116.5 L207.61 116.5 L207.70 116.5 L207.80 116.5 L207.90 116.5 L208.00 116.5 L208.10 116.5 L208.20 116.5 L208.29 116.5 L208.39 116.5 L208.49 116.5 L208.59 116.5 L208.69 116.5 L208.79 116.5 L208.88 116.5 L208.98 116.5 L209.08 116.5 L209.18 116.5 L209.28 116.5 L209.38 116.5 L209.47 116.5 L209.57 116.5 L209.67 116.5 L209.77 116.5 L209.87 116.5 L209.97 116.5 L210.06 116.5 L210.16 116.5 L210.26 116.5 L210.36 116.5 L210.46 116.5 L210.56 116.5 L210.65 116.5 L210.75 116.5 L210.85 116.5 L210.95 116.5 L211.05 116.5 L211.15 116.5 L211.24 116.5 L211.34 116.5 L211.44 116.5 L211.54 116.5 L211.64 116.5 L211.74 116.5 L211.83 116.5 L211.93 116.5 L212.03 116.5 L212.13 116.5 L212.23 116.5 L212.33 116.5 L212.42 116.5 L212.52 116.5 L212.62 116.5 L212.72 116.5 L212.82 116.5 L212.92 116.5 L213.01 116.5 L213.11 116.5 L213.21 116.5 L213.31 116.5 L213.41 116.5 L213.51 116.5 L213.60 116.5 L213.70 116.5 L213.80 116.5 L213.90 116.5 L214.00 116.5 L214.10 116.5 L214.19 116.5 L214.29 116.5 L214.39 116.5 L214.49 116.5 L214.59 116.5 L214.69 116.5 L214.78 116.5 L214.88 116.5 L214.98 116.5 L215.08 116.5 L215.18 116.5 L215.28 116.5 L215.37 116.5 L215.47 116.5 L215.57 116.5 L215.67 116.5 L215.77 116.5 L215.87 116.5 L215.96 116.5 L216.06 116.5 L216.16 116.5 L216.26 116.5 L216.36 116.5 L216.46 116.5 L216.55 116.5 L216.65 116.5 L216.75 116.5 L216.85 116.5 L216.95 116.5 L217.05 116.5 L217.14 116.5 L217.24 116.5 L217.34 116.5 L217.44 116.5 L217.54 116.5 L217.64 116.5 L217.73 116.5 L217.83 116.5 L217.93 116.5 L218.03 116.5 L218.13 116.5 L218.23 116.5 L218.32 116.5 L218.42 116.5 L218.52 116.5 L218.62 116.5 L218.72 116.5 L218.82 116.4 L218.91 116.4 L219.01 116.4 L219.11 116.4 L219.21 116.4 L219.31 116.4 L219.41 116.4 L219.50 116.4 L219.60 116.4 L219.70 116.4 L219.80 116.4 L219.90 116.4 L220.00 116.4 L220.09 116.4 L220.19 116.4 L220.29 116.4 L220.39 116.4 L220.49 116.4 L220.59 116.4 L220.68 116.4 L220.78 116.4 L220.88 116.4 L220.98 116.4 L221.08 116.4 L221.18 116.4 L221.27 116.4 L221.37 116.4 L221.47 116.4 L221.57 116.4 L221.67 116.4 L221.77 116.4 L221.86 116.4 L221.96 116.4 L222.06 116.4 L222.16 116.4 L222.26 116.4 L222.36 116.4 L222.45 116.4 L222.55 116.4 L222.65 116.4 L222.75 116.4 L222.85 116.4 L222.95 116.4 L223.04 116.4 L223.14 116.4 L223.24 116.4 L223.34 116.4 L223.44 116.4 L223.54 116.4 L223.63 116.4 L223.73 116.4 L223.83 116.4 L223.93 116.4 L224.03 116.4 L224.13 116.4 L224.22 116.4 L224.32 116.4 L224.42 116.4 L224.52 116.4 L224.62 116.4 L224.72 116.4 L224.81 116.4 L224.91 116.4 L225.01 116.4 L225.11 116.4 L225.21 116.4 L225.31 116.4 L225.40 116.4 L225.50 116.4 L225.60 116.4 L225.70 116.4 L225.80 116.4 L225.90 116.4 L225.99 116.4 L226.09 116.4 L226.19 116.4 L226.29 116.4 L226.39 116.4 L226.49 116.4 L226.58 116.4 L226.68 116.4 L226.78 116.4 L226.88 116.4 L226.98 116.4 L227.08 116.4 L227.17 116.4 L227.27 116.4 L227.37 116.4 L227.47 116.4 L227.57 116.4 L227.67 116.4 L227.76 116.4 L227.86 116.4 L227.96 116.4 L228.06 116.4 L228.16 116.4 L228.26 116.4 L228.35 116.4 L228.45 116.4 L228.55 116.4 L228.65 116.4 L228.75 116.4 L228.85 116.4 L228.94 116.4 L229.04 116.4 L229.14 116.4 L229.24 116.4 L229.34 116.4 L229.44 116.4 L229.53 116.4 L229.63 116.4 L229.73 116.4 L229.83 116.4 L229.93 116.4 L230.03 116.4 L230.12 116.4 L230.22 116.4 L230.32 116.4 L230.42 116.4 L230.52 116.4 L230.62 116.4 L230.71 116.3 L230.81 116.3 L230.91 116.3 L231.01 116.3 L231.11 116.3 L231.21 116.3 L231.30 116.3 L231.40 116.3 L231.50 116.3 L231.60 116.3 L231.70 116.3 L231.80 116.3 L231.89 116.3 L231.99 116.3 L232.09 116.3 L232.19 116.3 L232.29 116.3 L232.39 116.3 L232.48 116.3 L232.58 116.3 L232.68 116.3 L232.78 116.3 L232.88 116.3 L232.98 116.3 L233.07 116.3 L233.17 116.3 L233.27 116.3 L233.37 116.3 L233.47 116.3 L233.57 116.3 L233.66 116.3 L233.76 116.3 L233.86 116.3 L233.96 116.3 L234.06 116.3 L234.16 116.3 L234.25 116.3 L234.35 116.2 L234.45 116.2 L234.55 116.2 L234.65 116.2 L234.75 116.2 L234.84 116.2 L234.94 116.2 L235.04 116.2 L235.14 116.2 L235.24 116.2 L235.34 116.2 L235.43 116.2 L235.53 116.2 L235.63 116.2 L235.73 116.2 L235.83 116.2 L235.93 116.2 L236.02 116.2 L236.12 116.2 L236.22 116.2 L236.32 116.1 L236.42 116.1 L236.52 116.1 L236.61 116.1 L236.71 116.1 L236.81 116.1 L236.91 116.1 L237.01 116.1 L237.11 116.1 L237.20 116.1 L237.30 116.1 L237.40 116.1 L237.50 116.1 L237.60 116.0 L237.70 116.0 L237.79 116.0 L237.89 116.0 L237.99 116.0 L238.09 116.0 L238.19 116.0 L238.29 116.0 L238.38 116.0 L238.48 115.9 L238.58 115.9 L238.68 115.9 L238.78 115.9 L238.88 115.9 L238.97 115.9 L239.07 115.9 L239.17 115.8 L239.27 115.8 L239.37 115.8 L239.47 115.8 L239.56 115.8 L239.66 115.8 L239.76 115.7 L239.86 115.7 L239.96 115.7 L240.06 115.7 L240.15 115.7 L240.25 115.6 L240.35 115.6 L240.45 115.6 L240.55 115.6 L240.65 115.5 L240.74 115.5 L240.84 115.5 L240.94 115.4 L241.04 115.4 L241.14 115.4 L241.24 115.3 L241.33 115.3 L241.43 115.3 L241.53 115.2 L241.63 115.2 L241.73 115.1 L241.83 115.1 L241.92 115.0 L242.02 115.0 L242.12 114.9 L242.22 114.9 L242.32 114.8 L242.42 114.8 L242.51 114.7 L242.61 114.6 L242.71 114.6 L242.81 114.5 L242.91 114.4 L243.01 114.3 L243.10 114.2 L243.20 114.1 L243.30 114.0 L243.40 113.9 L243.50 113.8 L243.60 113.7 L243.69 113.6 L243.79 113.5 L243.89 113.3 L243.99 113.2 L244.09 113.0 L244.19 112.9 L244.28 112.7 L244.38 112.5 L244.48 112.3 L244.58 112.1 L244.68 111.9 L244.78 111.6 L244.87 111.4 L244.97 111.1 L245.07 110.7 L245.17 110.3 L245.27 109.8 L245.37 109.2 L245.46 108.5 L245.56 107.5 L245.66 106.0 L245.76 103.9 L245.86 100.5 L245.96 94.6 L246.05 83.4 L246.15 60.9 L246.25 26.9 L246.35 26.4 L246.45 58.9 L246.55 83.2 L246.64 92.0 L246.74 100.1 L246.84 103.5 L246.94 105.1 L247.04 106.6 L247.14 107.1 L247.23 108.0 L247.33 107.7 L247.43 106.4 L247.53 107.2 L247.63 105.8 L247.73 103.8 L247.82 100.1 L247.92 94.4 L248.02 97.5 L248.12 101.7 L248.22 105.9 L248.32 107.6 L248.41 109.5 L248.51 110.0 L248.61 110.1 L248.71 111.2 L248.81 111.3 L248.91 111.6 L249.00 109.7 L249.10 110.8 L249.20 109.3 L249.30 107.7 L249.40 104.8 L249.50 100.8 L249.59 100.9 L249.69 104.2 L249.79 108.8 L249.89 110.4 L249.99 109.7 L250.09 112.0 L250.18 112.6 L250.28 112.8 L250.38 113.6 L250.48 111.7 L250.58 113.8 L250.68 112.9 L250.77 113.8 L250.87 113.1 L250.97 113.7 L251.07 113.4 L251.17 112.1 L251.27 112.4 L251.36 110.7 L251.46 108.6 L251.56 104.9 L251.66 99.7 L251.76 97.5 L251.86 101.4 L251.95 106.7 L252.05 109.2 L252.15 111.7 L252.25 112.7 L252.35 113.4 L252.45 113.8 L252.54 114.0 L252.64 113.6 L252.74 112.9 L252.84 114.0 L252.94 113.2 L253.04 114.0 L253.13 113.8 L253.23 113.6 L253.33 113.4 L253.43 111.7 L253.53 110.8 L253.63 108.0 L253.72 105.0 L253.82 104.8 L253.92 107.9 L254.02 110.9 L254.12 112.7 L254.22 113.2 L254.31 113.8 L254.41 114.3 L254.51 114.8 L254.61 115.0 L254.71 114.9 L254.81 115.2 L254.90 115.3 L255.00 114.9 L255.10 115.3 L255.20 115.4 L255.30 114.5 L255.40 115.3 L255.49 115.2 L255.59 115.0 L255.69 114.5 L255.79 114.4 L255.89 114.6 L255.99 113.6 L256.08 113.0 L256.18 110.8 L256.28 108.3 L256.38 107.5 L256.48 109.8 L256.58 112.1 L256.67 113.0 L256.77 113.5 L256.87 114.6 L256.97 114.9 L257.07 115.0 L257.17 115.0 L257.26 115.0 L257.36 114.9 L257.46 114.9 L257.56 114.4 L257.66 114.3 L257.76 113.4 L257.85 112.5 L257.95 110.4 L258.05 107.5 L258.15 103.7 L258.25 103.9 L258.35 107.1 L258.44 110.8 L258.54 112.6 L258.64 113.7 L258.74 114.4 L258.84 114.8 L258.94 114.9 L259.03 115.3 L259.13 115.4 L259.23 115.4 L259.33 115.1 L259.43 115.0 L259.53 115.2 L259.62 115.2 L259.72 115.0 L259.82 115.0 L259.92 115.3 L260.02 115.4 L260.12 114.8 L260.21 114.8 L260.31 114.5 L260.41 113.7 L260.51 112.2 L260.61 109.7 L260.71 107.0 L260.80 107.3 L260.90 109.9 L261.00 112.5 L261.10 113.8 L261.20 114.3 L261.30 114.7 L261.39 115.4 L261.49 115.4 L261.59 115.7 L261.69 115.8 L261.79 115.6 L261.89 115.9 L261.98 115.6 L262.08 116.0 L262.18 115.7 L262.28 115.8 L262.38 116.0 L262.48 116.0 L262.57 116.1 L262.67 116.0 L262.77 115.9 L262.87 116.0 L262.97 116.0 L263.07 116.1 L263.16 116.1 L263.26 115.8 L263.36 116.1 L263.46 116.0 L263.56 116.0 L263.66 115.8 L263.75 115.9 L263.85 115.8 L263.95 115.7 L264.05 115.6 L264.15 115.2 L264.25 114.7 L264.34 113.5 L264.44 112.0 L264.54 111.0 L264.64 111.9 L264.74 113.4 L264.84 114.5 L264.93 115.0 L265.03 115.5 L265.13 115.8 L265.23 115.7 L265.33 115.9 L265.43 115.9 L265.52 115.9 L265.62 116.1 L265.72 116.0 L265.82 116.1 L265.92 116.1 L266.02 116.2 L266.11 116.1 L266.21 116.2 L266.31 116.2 L266.41 116.1 L266.51 116.2 L266.61 116.2 L266.70 116.1 L266.80 115.9 L266.90 115.9 L267.00 115.9 L267.10 115.7 L267.20 115.2 L267.29 114.8 L267.39 114.2 L267.49 114.6 L267.59 115.1 L267.69 115.7 L267.79 115.7 L267.88 116.1 L267.98 116.1 L268.08 116.1 L268.18 116.2 L268.28 116.2 L268.38 116.3 L268.47 116.3 L268.57 116.3 L268.67 116.3 L268.77 116.3 L268.87 116.3 L268.97 116.4 L269.06 116.4 L269.16 116.4 L269.26 116.4 L269.36 116.4 L269.46 116.4 L269.56 116.4 L269.65 116.4 L269.75 116.4 L269.85 116.3 L269.95 116.3 L270.05 116.3 L270.15 116.3 L270.24 116.3 L270.34 116.2 L270.44 116.1 L270.54 116.0 L270.64 115.8 L270.74 115.4 L270.83 115.2 L270.93 115.5 L271.03 115.8 L271.13 116.0 L271.23 116.2 L271.33 116.2 L271.42 116.3 L271.52 116.3 L271.62 116.3 L271.72 116.4 L271.82 116.4 L271.92 116.4 L272.01 116.4 L272.11 116.4 L272.21 116.4 L272.31 116.4 L272.41 116.4 L272.51 116.4 L272.60 116.4 L272.70 116.4 L272.80 116.4 L272.90 116.4 L273.00 116.4 L273.10 116.4 L273.19 116.4 L273.29 116.4 L273.39 116.4 L273.49 116.4 L273.59 116.4 L273.69 116.4 L273.78 116.4 L273.88 116.4 L273.98 116.4 L274.08 116.4 L274.18 116.4 L274.28 116.4 L274.37 116.4 L274.47 116.4 L274.57 116.4 L274.67 116.4 L274.77 116.4 L274.87 116.4 L274.96 116.4 L275.06 116.4 L275.16 116.4 L275.26 116.4 L275.36 116.4 L275.46 116.4 L275.55 116.4 L275.65 116.4 L275.75 116.4 L275.85 116.4 L275.95 116.4 L276.05 116.4 L276.14 116.4 L276.24 116.4 L276.34 116.4 L276.44 116.4 L276.54 116.4 L276.64 116.4 L276.73 116.5 L276.83 116.5 L276.93 116.5 L277.03 116.5 L277.13 116.5 L277.23 116.5 L277.32 116.5 L277.42 116.5 L277.52 116.5 L277.62 116.5 L277.72 116.5 L277.82 116.5 L277.91 116.5 L278.01 116.5 L278.11 116.5 L278.21 116.5 L278.31 116.5 L278.41 116.5 L278.50 116.5 L278.60 116.5 L278.70 116.5 L278.80 116.5 L278.90 116.5 L279.00 116.5 L279.09 116.5 L279.19 116.5 L279.29 116.5 L279.39 116.5 L279.49 116.5 L279.59 116.5 L279.68 116.5 L279.78 116.5 L279.88 116.5 L279.98 116.5 L280.08 116.5 L280.18 116.5 L280.27 116.5 L280.37 116.5 L280.47 116.5 L280.57 116.5 L280.67 116.5 L280.77 116.5 L280.86 116.5 L280.96 116.5 L281.06 116.5 L281.16 116.5 L281.26 116.5 L281.36 116.5 L281.45 116.5 L281.55 116.5 L281.65 116.5 L281.75 116.5 L281.85 116.5 L281.95 116.5 L282.04 116.5 L282.14 116.5 L282.24 116.5 L282.34 116.5 L282.44 116.5 L282.54 116.5 L282.63 116.5 L282.73 116.5 L282.83 116.5 L282.93 116.5 L283.03 116.5 L283.13 116.5 L283.22 116.5 L283.32 116.5 L283.42 116.5 L283.52 116.5 L283.62 116.5 L283.72 116.5 L283.81 116.5 L283.91 116.5 L284.01 116.5 L284.11 116.5 L284.21 116.5 L284.31 116.5 L284.40 116.5 L284.50 116.5 L284.60 116.5 L284.70 116.5 L284.80 116.5 L284.90 116.5 L284.99 116.5 L285.09 116.5 L285.19 116.5 L285.29 116.5 L285.39 116.5 L285.49 116.5 L285.58 116.5 L285.68 116.5 L285.78 116.5 L285.88 116.5 L285.98 116.5 L286.08 116.5 L286.17 116.5 L286.27 116.5 L286.37 116.5 L286.47 116.5 L286.57 116.5 L286.67 116.5 L286.76 116.5 L286.86 116.5 L286.96 116.5 L287.06 116.5 L287.16 116.5 L287.26 116.5 L287.35 116.5 L287.45 116.5 L287.55 116.5 L287.65 116.5 L287.75 116.5 L287.85 116.5 L287.94 116.5 L288.04 116.5 L288.14 116.5 L288.24 116.5 L288.34 116.5 L288.44 116.5 L288.53 116.5 L288.63 116.5 L288.73 116.5 L288.83 116.5 L288.93 116.5 L289.03 116.5 L289.12 116.5 L289.22 116.5 L289.32 116.5 L289.42 116.5 L289.52 116.5 L289.62 116.5 L289.71 116.5 L289.81 116.5 L289.91 116.5 L290.01 116.5 L290.11 116.5 L290.21 116.5 L290.30 116.5 L290.40 116.5 L290.50 116.5 L290.60 116.5 L290.70 116.5 L290.80 116.5 L290.89 116.5 L290.99 116.5 L291.09 116.5 L291.19 116.5 L291.29 116.5 L291.39 116.5 L291.48 116.5 L291.58 116.5 L291.68 116.5 L291.78 116.5 L291.88 116.5 L291.98 116.5 L292.07 116.5 L292.17 116.5 L292.27 116.5 L292.37 116.5 L292.47 116.5 L292.57 116.5 L292.66 116.5 L292.76 116.5 L292.86 116.5 L292.96 116.5 L293.06 116.5 L293.16 116.5 L293.25 116.5 L293.35 116.5 L293.45 116.5 L293.55 116.5 L293.65 116.5 L293.75 116.5 L293.84 116.5 L293.94 116.5 L294.04 116.5 L294.14 116.5 L294.24 116.5 L294.34 116.5 L294.43 116.5 L294.53 116.5 L294.63 116.5 L294.73 116.5 L294.83 116.5 L294.93 116.5 L295.02 116.5 L295.12 116.5 L295.22 116.5 L295.32 116.5 L295.42 116.5 L295.52 116.5 L295.61 116.5 L295.71 116.5 L295.81 116.5 L295.91 116.5 L296.01 116.5 L296.11 116.5 L296.20 116.5 L296.30 116.5 L296.40 116.5 L296.50 116.5 L296.60 116.5 L296.70 116.5 L296.79 116.5 L296.89 116.5 L296.99 116.5 L297.09 116.5 L297.19 116.5 L297.29 116.5 L297.38 116.5 L297.48 116.5 L297.58 116.5 L297.68 116.5 L297.78 116.5 L297.88 116.5 L297.97 116.5 L298.07 116.5 L298.17 116.5 L298.27 116.5 L298.37 116.5 L298.47 116.5 L298.56 116.5 L298.66 116.5 L298.76 116.5 L298.86 116.5 L298.96 116.5 L299.06 116.5 L299.15 116.5 L299.25 116.5 L299.35 116.5 L299.45 116.5 L299.55 116.5 L299.65 116.5 L299.74 116.5 L299.84 116.5 L299.94 116.5 L300.04 116.5 L300.14 116.5 L300.24 116.5 L300.33 116.5 L300.43 116.5 L300.53 116.5 L300.63 116.5 L300.73 116.5 L300.83 116.5 L300.92 116.5 L301.02 116.5 L301.12 116.5 L301.22 116.5 L301.32 116.5 L301.42 116.5 L301.51 116.5 L301.61 116.5 L301.71 116.5 L301.81 116.5 L301.91 116.5 L302.01 116.5 L302.10 116.5 L302.20 116.5 L302.30 116.5 L302.40 116.5 L302.50 116.5 L302.60 116.5 L302.69 116.5 L302.79 116.5 L302.89 116.5 L302.99 116.5 L303.09 116.5 L303.19 116.5 L303.28 116.5 L303.38 116.5 L303.48 116.5 L303.58 116.5 L303.68 116.5 L303.78 116.5 L303.87 116.5 L303.97 116.5 L304.07 116.5 L304.17 116.5 L304.27 116.5 L304.37 116.5 L304.46 116.5 L304.56 116.5 L304.66 116.5 L304.76 116.5 L304.86 116.5 L304.96 116.5 L305.05 116.5 L305.15 116.5 L305.25 116.5 L305.35 116.5 L305.45 116.5 L305.55 116.5 L305.64 116.5 L305.74 116.5 L305.84 116.5 L305.94 116.5 L306.04 116.5 L306.14 116.5 L306.23 116.5 L306.33 116.5 L306.43 116.5 L306.53 116.5 L306.63 116.5 L306.73 116.5 L306.82 116.5 L306.92 116.5 L307.02 116.5 L307.12 116.5 L307.22 116.5 L307.32 116.5 L307.41 116.5 L307.51 116.5 L307.61 116.5 L307.71 116.5 L307.81 116.5 L307.91 116.5 L308.00 116.5 L308.10 116.5 L308.20 116.5 L308.30 116.5 L308.40 116.5 L308.50 116.5 L308.59 116.5 L308.69 116.5 L308.79 116.5 L308.89 116.5 L308.99 116.5 L309.09 116.5 L309.18 116.5 L309.28 116.5 L309.38 116.5 L309.48 116.5 L309.58 116.5 L309.68 116.5 L309.77 116.5 L309.87 116.5 L309.97 116.5 L310.07 116.5 L310.17 116.5 L310.27 116.5 L310.36 116.5 L310.46 116.5 L310.56 116.5 L310.66 116.5 L310.76 116.5 L310.86 116.5 L310.95 116.5 L311.05 116.5 L311.15 116.5 L311.25 116.5 L311.35 116.5 L311.45 116.5 L311.54 116.5 L311.64 116.5 L311.74 116.5 L311.84 116.5 L311.94 116.5 L312.04 116.5 L312.13 116.5 L312.23 116.5 L312.33 116.5 L312.43 116.5 L312.53 116.5 L312.63 116.5 L312.72 116.5 L312.82 116.5 L312.92 116.5 L313.02 116.5 L313.12 116.5 L313.22 116.5 L313.31 116.5 L313.41 116.5 L313.51 116.5 L313.61 116.5 L313.71 116.5 L313.81 116.5 L313.90 116.5 L314.00 116.5 L314.10 116.5 L314.20 116.5 L314.30 116.5 L314.40 116.5 L314.49 116.5 L314.59 116.5 L314.69 116.5 L314.79 116.5 L314.89 116.5 L314.99 116.5 L315.08 116.5 L315.18 116.5 L315.28 116.5 L315.38 116.5 L315.48 116.5 L315.58 116.5 L315.67 116.5 L315.77 116.5 L315.87 116.5 L315.97 116.5 L316.07 116.5 L316.17 116.5 L316.26 116.5 L316.36 116.5 L316.46 116.5 L316.56 116.5 L316.66 116.5 L316.76 116.5 L316.85 116.5 L316.95 116.5 L317.05 116.5 L317.15 116.5 L317.25 116.5 L317.35 116.5 L317.44 116.5 L317.54 116.5 L317.64 116.5 L317.74 116.5 L317.84 116.5 L317.94 116.5 L318.03 116.5 L318.13 116.5 L318.23 116.5 L318.33 116.5 L318.43 116.5 L318.53 116.5 L318.62 116.5 L318.72 116.5 L318.82 116.5 L318.92 116.5 L319.02 116.5 L319.12 116.5 L319.21 116.5 L319.31 116.5 L319.41 116.5 L319.51 116.5 L319.61 116.5 L319.71 116.5 L319.80 116.5 L319.90 116.5 L320.00 116.5" stroke="#cb181d" stroke-width="0.85" fill="none" stroke-dasharray="2.2 1.8"/>
</g>
<g id="axes-b" stroke="#1c1c1c" stroke-width="1.6" fill="none">
<path d="M658 37.5V401.6"/>
<path d="M657.2 400.8H1020"/>
<path d="M649.5 106.4H658"/>
<path d="M649.5 219.6H658"/>
<path d="M649.5 332.8H658"/>
<path d="M725.5 400.8V409.5"/>
<path d="M838.7 400.8V409.5"/>
<path d="M951.9 400.8V409.5"/>
</g>
<path id="orbit" d="M966.2 238.6 L970.1 229.8 L972.6 220.9 L973.4 211.9 L972.6 202.9 L970.2 194.0 L966.2 185.3 L960.7 176.9 L953.7 168.8 L945.3 161.3 L935.5 154.2 L924.6 147.9 L912.6 142.2 L899.7 137.3 L885.9 133.3 L871.6 130.2 L856.8 128.0 L841.8 126.8 L826.7 126.6 L811.6 127.3 L796.9 129.2 L782.6 132.0 L768.9 135.8 L756.1 140.5 L744.2 146.2 L733.4 152.7 L723.9 160.0 L715.7 168.0 L709.0 176.7 L703.8 185.9 L700.2 195.6 L698.3 205.6 L698.1 215.8 L699.5 226.2 L702.6 236.5 L707.4 246.8 L713.7 256.8 L721.5 266.5 L730.7 275.7 L741.2 284.4 L752.9 292.4 L765.6 299.6 L779.1 306.0 L793.4 311.5 L808.2 315.9 L823.4 319.3 L838.7 321.6 L854.0 322.7 L869.2 322.7 L883.9 321.5 L898.1 319.2 L911.6 315.7 L924.1 311.1 L935.7 305.4 L946.1 298.7 L955.1 291.1 L962.8 282.7 L969.0 273.5 L973.7 263.6 L976.7 253.2 L978.1 242.4 L977.8 231.2 L975.9 219.9 L972.4 208.5 L967.3 197.3 L960.7 186.2 L952.7 175.5 L943.4 165.2 L932.9 155.6 L921.3 146.6 L908.7 138.4 L895.4 131.2 L881.5 124.9 L867.1 119.7 L852.5 115.6 L837.7 112.7 L823.1 111.0 L808.6 110.6 L794.6 111.4 L781.2 113.4 L768.5 116.6 L756.6 121.0 L745.8 126.5 L736.1 133.1 L727.6 140.7 L720.5 149.2 L714.8 158.5 L710.5 168.4 L707.8 179.0 L706.6 190.0 L706.9 201.4 L708.7 213.0 L712.0 224.6 L716.8 236.2 L722.9 247.6 L730.4 258.7 L739.0 269.3 L748.7 279.4 L759.4 288.8 L771.0 297.4 L783.2 305.2 L796.0 311.9 L809.2 317.7 L822.7 322.3 L836.3 325.8 L849.8 328.1 L863.1 329.2 L876.0 329.0 L888.4 327.7 L900.2 325.1 L911.2 321.4 L921.4 316.6 L930.5 310.7 L938.5 303.7 L945.4 295.9 L951.0 287.3 L955.3 277.9 L958.3 267.8 L959.9 257.3 L960.1 246.4 L959.0 235.2 L956.6 223.8 L952.8 212.4 L947.9 201.1 L941.7 190.0 L934.4 179.3 L926.1 169.0 L917.0 159.3 L907.0 150.3 L896.3 142.0 L885.1 134.6 L873.4 128.1 L861.4 122.6 L849.3 118.1 L837.1 114.8 L825.0 112.6 L813.2 111.5 L801.7 111.7 L790.7 113.0 L780.3 115.4 L770.6 118.9 L761.7 123.6 L753.7 129.2 L746.7 135.8 L740.7 143.4 L735.9 151.7 L732.1 160.7 L729.6 170.4 L728.2 180.6 L728.1 191.2 L729.1 202.2 L731.3 213.3 L734.7 224.5 L739.1 235.6 L744.6 246.6 L751.1 257.3 L758.5 267.6 L766.6 277.3 L775.6 286.5 L785.1 295.0 L795.1 302.7 L805.6 309.5 L816.3 315.4 L827.2 320.2 L838.2 324.0 L849.2 326.7 L859.9 328.2 L870.4 328.6 L880.5 327.9 L890.1 325.9 L899.1 322.9 L907.5 318.7 L915.0 313.4 L921.8 307.2 L927.6 300.0 L932.4 291.9 L936.3 283.0 L939.1 273.4 L940.8 263.2 L941.5 252.5 L941.1 241.4 L939.6 230.1 L937.0 218.6 L933.4 207.1 L928.9 195.7 L923.4 184.4 L917.1 173.6 L909.9 163.2 L902.0 153.3 L893.5 144.2 L884.5 135.8 L875.0 128.3 L865.1 121.7 L855.0 116.2 L844.7 111.8 L834.5 108.5 L824.2 106.5 L814.2 105.6 L804.4 106.0 L795.0 107.6 L786.1 110.5 L777.7 114.5 L770.0 119.7 L763.1 126.1 L756.9 133.4 L751.6 141.8 L747.2 151.0 L743.7 161.0 L741.3 171.7 L739.8 183.0 L739.4 194.7 L740.1 206.7 L741.7 219.0 L744.4 231.3 L748.0 243.5 L752.6 255.4 L758.1 267.1 L764.4 278.2 L771.5 288.8 L779.3 298.6 L787.8 307.6 L796.7 315.7 L806.1 322.7 L815.8 328.6 L825.8 333.3 L835.9 336.8 L846.1 339.0 L856.2 339.9 L866.1 339.4 L875.7 337.6 L885.0 334.5 L893.8 330.1 L902.0 324.5 L909.5 317.7 L916.4 309.8 L922.4 300.8 L927.6 291.0 L931.8 280.3 L935.1 268.9 L937.3 256.9 L938.6 244.5 L938.8 231.8 L937.9 218.9 L936.0 205.9 L933.1 193.1 L929.1 180.6 L924.3 168.5 L918.4 156.9 L911.8 145.9 L904.4 135.8 L896.2 126.6 L887.4 118.4 L878.1 111.3 L868.3 105.3 L858.2 100.7 L847.9 97.3 L837.4 95.3 L826.9 94.7 L816.5 95.5 L806.3 97.6 L796.5 101.1 L787.0 105.9 L778.0 112.0 L769.7 119.3 L762.0 127.7 L755.2 137.1 L749.2 147.5 L744.1 158.6 L740.1 170.5 L737.0 182.9 L735.1 195.8 L734.2 208.9 L734.4 222.1 L735.8 235.4 L738.3 248.5 L741.8 261.3 L746.4 273.6 L752.0 285.4 L758.6 296.5 L766.1 306.7 L774.3 316.0 L783.3 324.3 L792.9 331.4 L803.1 337.3 L813.7 341.9 L824.6 345.2 L835.7 347.2 L846.9 347.7 L858.1 346.8 L869.1 344.5 L879.8 340.9 L890.2 335.9 L900.0 329.7 L909.2 322.2 L917.7 313.6 L925.4 304.0 L932.1 293.4 L937.9 282.0 L942.7 269.9 L946.3 257.2 L948.8 244.1 L950.1 230.7 L950.2 217.1 L949.0 203.5 L946.7 190.1 L943.1 176.9 L938.4 164.2 L932.6 152.1 L925.7 140.6 L917.8 130.0 L909.1 120.3 L899.5 111.7 L889.1 104.2 L878.2 98.0 L866.8 93.0 L855.0 89.5 L843.0 87.3 L830.8 86.6 L818.7 87.3 L806.8 89.4 L795.1 93.0 L783.9 98.0 L773.2 104.3 L763.2 111.9 L753.9 120.8 L745.6 130.7 L738.3 141.7 L732.0 153.5 L726.9 166.2 L723.0 179.4 L720.4 193.2 L719.1 207.3 L719.1 221.7 L720.4 236.0 L723.1 250.3 L727.1 264.3 L732.4 277.8 L738.9 290.8 L746.5 303.1 L755.2 314.5 L764.8 325.0 L775.4 334.3 L786.7 342.4 L798.7 349.1 L811.1 354.5 L823.9 358.4 L837.0 360.8 L850.1 361.6 L863.2 360.8 L876.0 358.5 L888.5 354.6 L900.4 349.2 L911.8 342.3 L922.3 334.0 L931.9 324.3 L940.6 313.4 L948.1 301.4 L954.4 288.5 L959.4 274.6 L963.1 260.1 L965.3 245.1 L966.2 229.6 L965.6 214.0 L963.5 198.3 L960.1 182.8 L955.2 167.7 L949.0 153.0 L941.5 139.0 L932.8 125.9 L923.0 113.7 L912.2 102.7 L900.6 93.0 L888.2 84.6 L875.2 77.8 L861.7 72.5 L847.9 68.9 L834.0 67.1 L820.1 66.9 L806.3 68.5 L792.9 71.9 L780.0 76.9 L767.7 83.7 L756.2 92.0 L745.6 101.8 L736.0 113.1 L727.6 125.6 L720.4 139.3 L714.5 153.9 L710.1 169.4 L707.2 185.5 L705.7 202.1 L705.7 218.9 L707.3 235.9 L710.4 252.7 L715.0 269.1 L721.0 285.1 L728.4 300.4 L737.0 314.7 L746.8 328.0 L757.8 340.1 L769.6 350.8 L782.3 360.1 L795.6 367.7 L809.5 373.6 L823.7 377.7 L838.1 380.0 L852.5 380.4 L866.8 378.9 L880.8 375.6 L894.4 370.4 L907.3 363.5 L919.4 354.9 L930.6 344.6 L940.8 332.9 L949.8 319.8 L957.6 305.6 L964.0 290.3 L968.9 274.2 L972.4 257.4 L974.3 240.1 L974.6 222.6 L973.4 205.1 L970.7 187.7 L966.4 170.7 L960.7 154.2 L953.5 138.5 L945.0 123.8 L935.3 110.1 L924.5 97.8 L912.7 86.9 L900.0 77.5 L886.7 69.8 L872.8 63.9 L858.4 59.8 L843.9 57.6 L829.3 57.2 L814.8 58.8 L800.6 62.2 L786.9 67.5 L773.7 74.6 L761.3 83.3 L749.8 93.6 L739.3 105.3 L729.9 118.4 L721.8 132.6 L715.1 147.8 L709.8 163.8 L706.0 180.4 L703.7 197.5 L702.9 214.7 L703.7 231.9 L706.1 249.0 L710.0 265.7 L715.3 281.8 L722.1 297.1 L730.2 311.5 L739.5 324.8 L750.0 336.8 L761.5 347.4 L773.8 356.5 L786.9 364.0 L800.5 369.8 L814.6 373.9 L828.9 376.2 L843.3 376.6 L857.6 375.3 L871.7 372.2 L885.4 367.3 L898.5 360.8 L911.0 352.7 L922.5 343.2 L933.1 332.2 L942.6 320.0 L950.9 306.8 L957.9 292.6 L963.5 277.6 L967.7 262.1 L970.4 246.1 L971.5 229.9 L971.2 213.7 L969.3 197.7 L966.0 181.9 L961.2 166.7 L955.0 152.1 L947.5 138.3 L938.8 125.6 L928.9 113.9 L918.1 103.5 L906.4 94.4 L893.9 86.8 L880.8 80.7 L867.3 76.2 L853.5 73.2 L839.6 72.0 L825.7 72.3 L812.0 74.3 L798.6 77.9 L785.8 83.1 L773.5 89.7 L762.1 97.7 L751.5 107.0 L742.0 117.6 L733.6 129.2 L726.4 141.7 L720.5 155.0 L716.0 169.0 L712.9 183.4 L711.2 198.2 L711.0 213.2 L712.2 228.2 L714.9 243.0 L718.9 257.5 L724.3 271.5 L731.0 285.0 L738.9 297.6 L747.9 309.4 L757.8 320.1 L768.7 329.7 L780.3 338.1 L792.5 345.2 L805.2 350.9 L818.2 355.2 L831.4 358.0 L844.7 359.3 L857.8 359.1 L870.7 357.4 L883.1 354.2 L895.0 349.6 L906.2 343.6 L916.6 336.2 L926.1 327.7 L934.6 318.0 L941.9 307.2 L948.1 295.5 L953.0 283.1 L956.6 269.9 L958.9 256.3 L959.8 242.2 L959.3 228.0 L957.5 213.7 L954.3 199.4 L949.9 185.4 L944.3 171.7 L937.4 158.6 L929.5 146.1 L920.7 134.4 L910.9 123.7 L900.4 113.9 L889.2 105.4 L877.5 98.0 L865.5 91.9 L853.2 87.3 L840.8 84.0 L828.4 82.2 L816.2 81.9 L804.3 83.1 L792.8 85.7 L781.9 89.8 L771.7 95.3 L762.3 102.2 L753.8 110.3 L746.2 119.6 L739.8 130.1 L734.4 141.5 L730.2 153.8 L727.3 166.8 L725.6 180.4 L725.2 194.5 L726.0 208.8 L728.1 223.3 L731.4 237.8 L735.9 252.1 L741.5 266.1 L748.1 279.6 L755.7 292.5 L764.2 304.6 L773.5 315.8 L783.4 325.9 L794.0 334.9 L804.9 342.7 L816.2 349.1 L827.7 354.1 L839.2 357.6 L850.7 359.6 L862.0 360.1 L872.9 359.0 L883.5 356.4 L893.5 352.2 L902.8 346.6 L911.5 339.6 L919.2 331.2 L926.1 321.5 L931.9 310.7 L936.7 298.9 L940.4 286.1 L943.0 272.6 L944.4 258.4 L944.6 243.8 L943.7 229.0 L941.7 213.9 L938.5 198.9 L934.2 184.1 L929.0 169.7 L922.7 155.8 L915.6 142.6 L907.6 130.3 L899.0 118.9 L889.7 108.7 L879.9 99.6 L869.7 91.9 L859.2 85.7 L848.6 80.9 L837.8 77.7 L827.2 76.0 L816.7 76.0 L806.5 77.6 L796.7 80.8 L787.3 85.6 L778.6 91.9 L770.6 99.6 L763.4 108.7 L757.0 119.0 L751.5 130.5 L747.0 143.0 L743.5 156.4 L741.1 170.5 L739.7 185.2 L739.4 200.3 L740.2 215.6 L742.1 230.9 L745.0 246.1 L748.9 261.1 L753.8 275.6 L759.6 289.4 L766.2 302.5 L773.5 314.6 L781.6 325.7 L790.2 335.5 L799.3 344.1 L808.9 351.2 L818.7 356.9 L828.7 361.0 L838.7 363.5 L848.7 364.4 L858.6 363.7 L868.2 361.3 L877.4 357.3 L886.2 351.8 L894.5 344.8 L902.1 336.4 L909.0 326.6 L915.1 315.7 L920.3 303.6 L924.6 290.7 L928.0 276.9 L930.4 262.5 L931.8 247.6 L932.2 232.4 L931.6 217.0 L929.9 201.7 L927.3 186.6 L923.8 171.9 L919.3 157.8 L913.9 144.3 L907.8 131.7 L900.9 120.1 L893.4 109.6 L885.4 100.4 L876.8 92.5 L867.9 86.0 L858.7 81.1 L849.3 77.7 L839.9 75.9 L830.4 75.8 L821.1 77.2 L812.1 80.3 L803.3 84.9 L795.0 91.1 L787.2 98.7 L780.0 107.6 L773.4 117.8 L767.6 129.2 L762.6 141.5 L758.4 154.8 L755.1 168.7 L752.8 183.2 L751.4 198.1 L750.9 213.3 L751.4 228.5 L752.8 243.6 L755.2 258.5 L758.4 272.8 L762.5 286.6 L767.4 299.6 L773.0 311.8 L779.4 322.8 L786.3 332.7 L793.8 341.3 L801.7 348.5 L809.9 354.3 L818.5 358.6 L827.2 361.2 L836.0 362.3 L844.7 361.8 L853.4 359.6 L861.8 355.9 L870.0 350.6 L877.8 343.8 L885.1 335.7 L891.8 326.2 L898.0 315.5 L903.5 303.8 L908.3 291.0 L912.3 277.5 L915.4 263.3 L917.8 248.7 L919.3 233.7 L919.9 218.6 L919.7 203.4 L918.6 188.5 L916.6 173.9 L913.9 159.9 L910.3 146.6 L906.1 134.1 L901.1 122.5 L895.5 112.1 L889.4 103.0 L882.7 95.1 L875.7 88.7 L868.3 83.8 L860.6 80.5 L852.7 78.8 L844.8 78.7 L836.8 80.1 L828.9 83.2 L821.2 87.9 L813.7 94.1 L806.5 101.7 L799.7 110.6 L793.3 120.8 L787.5 132.2 L782.2 144.5 L777.5 157.6 L773.5 171.5 L770.2 185.9 L767.6 200.6 L765.7 215.6 L764.6 230.5 L764.3 245.4 L764.7 259.8 L765.9 273.8 L767.8 287.2 L770.5 299.7 L773.8 311.2 L777.7 321.7 L782.2 330.9 L787.3 338.9 L792.9 345.4 L798.9 350.5 L805.3 354.0 L811.9 355.9 L818.8 356.3 L825.9 355.0 L833.1 352.2 L840.3 347.9 L847.4 342.0 L854.5 334.8 L861.3 326.2 L868.0 316.5 L874.2 305.6 L880.2 293.8 L885.7 281.2 L890.7 267.9 L895.2 254.2 L899.1 240.0 L902.5 225.7 L905.2 211.5 L907.2 197.3 L908.6 183.6 L909.3 170.3 L909.2 157.6 L908.6 145.8 L907.2 134.9 L905.1 125.0 L902.4 116.3 L899.1 108.9 L895.2 102.8 L890.7 98.1 L885.7 94.9 L880.3 93.1 L874.4 92.8 L868.2 94.0 L861.6 96.7 L854.9 100.8 L847.9 106.2 L840.9 112.9 L833.7 120.7 L826.7 129.7 L819.7 139.6 L812.8 150.4 L806.2 161.9 L799.9 173.9 L793.9 186.4 L788.4 199.1 L783.3 211.9 L778.7 224.7 L774.7 237.3 L771.3 249.6 L768.6 261.4 L766.6 272.6 L765.2 283.1 L764.6 292.8 L764.7 301.5 L765.6 309.1 L767.3 315.7 L769.6 321.0 L772.7 325.2 L776.5 328.1 L780.9 329.7 L786.0 330.1 L791.7 329.2 L797.8 327.0 L804.5 323.7 L811.6 319.3 L819.0 313.7 L826.7 307.2 L834.6 299.8 L842.6 291.6 L850.6 282.7 L858.6 273.3 L866.4 263.3 L874.0 253.0 L881.4 242.5 L888.3 231.9 L894.8 221.3 L900.8 210.9 L906.1 200.7 L910.8 190.9 L914.7 181.5 L917.9 172.7 L920.3 164.5 L921.8 157.1 L922.4 150.4 L922.1 144.6 L921.0 139.7 L918.9 135.7 L915.9 132.7 L912.0 130.7 L907.4 129.6 L901.9 129.5 L895.7 130.4 L888.8 132.1 L881.2 134.8 L873.2 138.3 L864.7 142.6 L855.8 147.6 L846.7 153.3 L837.4 159.5 L828.0 166.3 L818.7 173.5 L809.5 181.1 L800.5 188.9 L792.0 196.9 L783.8 205.0 L776.2 213.2 L769.3 221.2 L763.1 229.2 L757.7 236.9 L753.1 244.3 L749.5 251.4 L746.9 258.1 L745.3 264.3 L744.7 270.0 L745.2 275.1 L746.7 279.6 L749.3 283.5 L753.0 286.8 L757.6 289.3 L763.2 291.2 L769.7 292.4 L777.0 292.9 L785.1 292.7 L793.8 291.8 L803.1 290.3 L812.8 288.1 L822.9 285.4 L833.2 282.0 L843.7 278.1 L854.1 273.7 L864.4 268.8 L874.5 263.5 L884.2 257.8 L893.4 251.9 L902.0 245.6 L909.9 239.2 L917.1 232.6 L923.4 225.9 L928.7 219.1 L933.0 212.4 L936.2 205.8 L938.3 199.3 L939.3 193.0 L939.1 186.9 L937.8 181.1 L935.3 175.7 L931.7 170.7 L927.0 166.1 L921.3 162.0 L914.6 158.4 L907.1 155.4 L898.7 153.0 L889.7 151.1 L880.0 150.0 L869.9 149.4 L859.4 149.6 L848.6 150.4 L837.7 151.8 L826.8 153.9 L816.1 156.7 L805.6 160.1 L795.5 164.1 L785.8 168.6 L776.8 173.7 L768.5 179.2 L761.0 185.2 L754.4 191.6 L748.8 198.3 L744.2 205.3 L740.7 212.4 L738.3 219.7 L737.1 227.1 L737.0 234.4 L738.1 241.7 L740.3 248.7 L743.6 255.6 L748.1 262.1 L753.5 268.3 L759.9 274.0 L767.2 279.2 L775.3 283.8 L784.1 287.8 L793.5 291.1 L803.3 293.7 L813.6 295.6 L824.1 296.6 L834.7 296.9 L845.3 296.4 L855.9 295.0 L866.2 292.9 L876.1 289.9 L885.7 286.2 L894.6 281.7 L902.9 276.6 L910.5 270.8 L917.2 264.4 L923.0 257.5 L927.8 250.1 L931.7 242.4 L934.5 234.4 L936.2 226.1 L936.8 217.8 L936.4 209.4 L934.9 201.0 L932.3 192.8 L928.7 184.9 L924.1 177.3 L918.6 170.1 L912.2 163.4 L905.1 157.3 L897.3 151.8 L888.9 147.1 L880.0 143.1 L870.6 139.9 L861.0 137.6 L851.1 136.1 L841.2 135.6 L831.3 136.0 L821.5 137.3 L811.9 139.5 L802.7 142.6 L793.9 146.5 L785.6 151.2 L778.0 156.8 L771.0 163.0 L764.7 169.8 L759.3 177.2 L754.7 185.1 L751.1 193.4 L748.4 202.0 L746.7 210.8 L745.9 219.8 L746.1 228.7 L747.3 237.6 L749.5 246.3 L752.6 254.7 L756.6 262.7 L761.4 270.3 L767.0 277.4 L773.4 283.8 L780.4 289.6 L788.0 294.6 L796.1 298.8 L804.6 302.1 L813.5 304.6 L822.6 306.1 L831.9 306.7 L841.2 306.4 L850.5 305.1 L859.6 302.9 L868.5 299.8 L877.1 295.8 L885.3 291.0 L893.0 285.5 L900.1 279.2 L906.6 272.2 L912.4 264.7 L917.4 256.7 L921.6 248.3 L925.0 239.6 L927.5 230.6 L929.1 221.6 L929.7 212.4 L929.4 203.4 L928.2 194.5 L926.1 185.9 L923.0 177.6 L919.1 169.8 L914.4 162.5 L908.8 155.8 L902.6 149.7 L895.6 144.4 L888.1 139.9 L880.0 136.2 L871.5 133.4 L862.6 131.6 L853.4 130.6 L844.0 130.6 L834.6 131.6 L825.1 133.5 L815.8 136.3 L806.6 140.0 L797.8 144.5 L789.3 149.9 L781.3 156.0 L773.9 162.8 L767.1 170.3 L761.0 178.3 L755.7 186.7 L751.2 195.5 L747.6 204.6 L745.0 213.9 L743.3 223.3 L742.6 232.6 L743.0 241.9 L744.3 250.9 L746.7 259.7 L750.1 268.0 L754.4 275.9 L759.6 283.2 L765.7 289.8 L772.7 295.7 L780.4 300.8 L788.7 305.0 L797.7 308.4 L807.2 310.8 L817.0 312.2 L827.2 312.6 L837.6 312.1 L848.0 310.5 L858.5 308.0 L868.8 304.5 L878.8 300.0 L888.5 294.7 L897.7 288.5 L906.4 281.6 L914.3 274.0 L921.5 265.7 L927.9 256.9 L933.3 247.7 L937.7 238.1 L941.0 228.2 L943.3 218.3 L944.4 208.3 L944.4 198.3 L943.1 188.6 L940.8 179.2 L937.2 170.2 L932.6 161.7 L926.9 153.7 L920.1 146.5 L912.4 140.1 L903.8 134.5 L894.4 129.8 L884.4 126.1 L873.7 123.4 L862.6 121.7 L851.2 121.2 L839.5 121.7 L827.8 123.3 L816.0 126.0 L804.5 129.7 L793.3 134.5 L782.5 140.2 L772.3 146.8 L762.8 154.2 L754.0 162.4 L746.2 171.3 L739.4 180.7 L733.7 190.6 L729.1 200.8 L725.7 211.3 L723.7 221.9 L722.9 232.5 L723.4 243.0 L725.3 253.2 L728.4 263.1 L732.9 272.5 L738.5 281.4 L745.4 289.5 L753.3 297.0 L762.3 303.5 L772.2 309.1 L782.9 313.8 L794.3 317.4 L806.2 319.8 L818.6 321.2 L831.3 321.5 L844.1 320.5 L856.9 318.5 L869.5 315.4 L881.8 311.1 L893.7 305.9 L905.0 299.7 L915.6 292.6 L925.4 284.6 L934.1 276.0 L941.8 266.7 L948.3 256.8 L953.6 246.6 L957.6 236.1 L960.2 225.4 L961.4 214.6 L961.2 203.9 L959.6 193.4 L956.6 183.2 L952.2 173.4 L946.5 164.1 L939.5 155.4 L931.3 147.5 L922.1 140.4 L911.8 134.2 L900.7 128.9 L888.9 124.7 L876.4 121.5 L863.5 119.3 L850.3 118.4 L836.9 118.5 L823.6 119.7 L810.3 122.1 L797.5 125.5 L785.0 129.9 L773.2 135.3 L762.1 141.6 L751.9 148.8 L742.7 156.7 L734.6 165.2 L727.7 174.4 L722.1 184.0 L717.9 194.0 L715.0 204.2 L713.6 214.6 L713.6 225.0 L715.1 235.3 L718.0 245.4 L722.3 255.2 L727.9 264.6 L734.8 273.5 L742.9 281.8 L752.1 289.3 L762.4 296.2 L773.4 302.1 L785.3 307.2 L797.7 311.4 L810.6 314.5 L823.8 316.7 L837.2 317.7 L850.5 317.8 L863.7 316.8 L876.6 314.8 L889.0 311.8 L900.9 307.8 L912.0 302.9 L922.2 297.1 L931.4 290.5 L939.6 283.2 L946.6 275.2 L952.3 266.7 L956.7 257.7 L959.8 248.3 L961.4 238.6 L961.7 228.7 L960.5 218.7 L957.9 208.8 L954.0 198.9 L948.8 189.3 L942.3 180.0 L934.7 171.2 L926.0 162.8 L916.3 155.0 L905.8 147.9 L894.5 141.5 L882.7 135.9 L870.4 131.2 L857.7 127.4 L844.9 124.6 L832.1 122.7 L819.4 121.8 L807.0 122.0 L795.0 123.1 L783.5 125.3 L772.7 128.4 L762.7 132.5 L753.6 137.5 L745.5 143.4 L738.5 150.1 L732.6 157.5 L728.0 165.6 L724.6 174.2 L722.6 183.4 L721.8 193.0 L722.4 202.9 L724.2 213.0 L727.4 223.3 L731.7 233.5 L737.3 243.6 L743.9 253.6 L751.6 263.2 L760.2 272.4 L769.7 281.1 L779.8 289.2 L790.6 296.6 L801.8 303.2 L813.4 309.0 L825.2 313.9 L837.0 317.8 L848.9 320.7 L860.5 322.5 L871.9 323.2 L882.8 322.9 L893.2 321.4 L902.9 318.8 L911.9 315.2 L920.0 310.5 L927.1 304.8 L933.3 298.2 L938.4 290.7 L942.4 282.3 L945.2 273.3 L946.8 263.5 L947.3 253.3 L946.6 242.6 L944.7 231.6 L941.7 220.4 L937.5 209.1 L932.4 197.9 L926.2 186.8 L919.2 176.0 L911.3 165.7 L902.7 155.8 L893.4 146.6 L883.7 138.1 L873.4 130.5 L862.9 123.8 L852.2 118.1 L841.4 113.5 L830.6 110.1 L820.0 107.8 L809.6 106.8 L799.5 107.0 L790.0 108.5 L781.0 111.2 L772.7 115.1 L765.1 120.2 L758.3 126.5 L752.3 133.8 L747.4 142.1 L743.4 151.4 L740.4 161.4 L738.5 172.1 L737.6 183.5 L737.7 195.3 L739.0 207.4 L741.2 219.7 L744.5 232.1 L748.7 244.4 L753.9 256.4 L759.9 268.1 L766.7 279.3 L774.3 289.9 L782.4 299.8 L791.2 308.7 L800.4 316.7 L809.9 323.7 L819.8 329.5 L829.8 334.0 L839.9 337.3 L849.9 339.3 L859.9 339.9 L869.5 339.2 L878.9 337.2 L887.8 333.8 L896.2 329.1 L904.1 323.1 L911.2 316.0 L917.6 307.8 L923.2 298.5 L927.9 288.4 L931.7 277.4 L934.5 265.8 L936.4 253.7 L937.3 241.1 L937.1 228.3 L936.0 215.3 L933.9 202.4 L930.7 189.6 L926.7 177.2 L921.7 165.2 L915.9 153.8 L909.2 143.2 L901.9 133.4 L893.8 124.5 L885.2 116.7 L876.1 110.1 L866.5 104.6 L856.7 100.5 L846.6 97.6 L836.5 96.2 L826.3 96.1 L816.2 97.4 L806.3 100.0 L796.7 104.0 L787.5 109.2 L778.8 115.7 L770.6 123.3 L763.2 132.0 L756.5 141.7 L750.6 152.3 L745.6 163.6 L741.5 175.5 L738.5 187.9 L736.4 200.6 L735.5 213.6 L735.6 226.6 L736.8 239.6 L739.1 252.3 L742.4 264.7 L746.8 276.6 L752.1 287.8 L758.4 298.3 L765.6 308.0 L773.7 316.7 L782.4 324.3 L791.8 330.8 L801.8 336.1 L812.2 340.1 L823.0 342.8 L834.1 344.2 L845.2 344.2 L856.4 342.9 L867.4 340.2 L878.2 336.2 L888.7 331.0 L898.7 324.5 L908.1 316.9 L916.9 308.3 L924.8 298.6 L931.9 288.1 L938.0 276.9 L943.1 265.0 L947.1 252.6 L949.9 239.9 L951.6 226.9 L952.0 213.8 L951.2 200.7 L949.1 187.8 L945.8 175.3 L941.4 163.2 L935.7 151.6 L929.0 140.8 L921.2 130.8 L912.4 121.7 L902.8 113.7 L892.3 106.7 L881.3 101.0 L869.6 96.5 L857.5 93.4 L845.2 91.5 L832.7 91.1 L820.1 92.0 L807.7 94.3 L795.5 98.0 L783.8 103.0 L772.5 109.3 L762.0 116.8 L752.2 125.4 L743.3 135.1 L735.5 145.7 L728.7 157.2 L723.1 169.4 L718.8 182.3 L715.8 195.5 L714.2 209.1 L714.0 222.9 L715.2 236.7 L717.8 250.4 L721.8 263.9 L727.1 276.9 L733.7 289.4 L741.6 301.2 L750.6 312.1 L760.7 322.1 L771.7 331.0 L783.5 338.8 L796.0 345.3 L809.1 350.4 L822.6 354.2 L836.4 356.5 L850.3 357.3 L864.1 356.5 L877.7 354.3 L890.9 350.5 L903.6 345.3 L915.6 338.7 L926.8 330.7 L937.1 321.4 L946.2 310.9 L954.2 299.3 L960.9 286.8 L966.3 273.4 L970.1 259.4 L972.5 244.8 L973.4 229.9 L972.7 214.7 L970.5 199.5 L966.8 184.5 L961.6 169.7 L954.9 155.4 L946.8 141.8 L937.5 128.9 L927.0 117.0 L915.5 106.2 L903.0 96.6 L889.7 88.3 L875.8 81.5 L861.4 76.2 L846.7 72.5 L831.8 70.5 L817.0 70.1 L802.3 71.5 L788.1 74.5 L774.3 79.3 L761.3 85.6 L749.1 93.5 L737.9 102.9 L727.9 113.7 L719.1 125.8 L711.6 139.0 L705.6 153.2 L701.2 168.2 L698.3 183.9 L697.0 200.1 L697.4 216.5 L699.4 233.1 L703.0 249.7 L708.2 265.9 L715.0 281.7 L723.2 296.8 L732.7 311.1 L743.5 324.4 L755.5 336.6 L768.4 347.4 L782.1 356.8 L796.6 364.7 L811.6 370.9 L826.9 375.3 L842.4 378.0 L857.8 378.9 L873.1 377.9 L888.0 375.0 L902.4 370.4 L916.0 364.0 L928.8 355.9 L940.5 346.1 L951.1 334.9 L960.3 322.3 L968.2 308.5 L974.6 293.6 L979.4 277.9 L982.6 261.4 L984.1 244.4 L983.9 227.0 L982.0 209.6 L978.5 192.2 L973.3 175.1 L966.6 158.5 L958.3 142.6 L948.7 127.5 L937.8 113.5 L925.7 100.7 L912.6 89.3 L898.6 79.4 L883.9 71.1 L868.7 64.5 L853.2 59.7 L837.4 56.8 L821.7 55.7 L806.2 56.6 L791.0 59.3 L776.4 63.9 L762.5 70.3 L749.5 78.5 L737.6 88.3 L726.8 99.6 L717.3 112.3 L709.3 126.2 L702.7 141.3 L697.8 157.2 L694.5 173.9 L692.8 191.0 L692.9 208.5 L694.7 226.2 L698.1 243.7 L703.2 261.0 L709.9 277.7 L718.0 293.8 L727.6 309.1 L738.4 323.2 L750.5 336.2 L763.5 347.8 L777.4 358.0 L792.0 366.5 L807.1 373.3 L822.6 378.4 L838.2 381.6 L853.8 383.0 L869.3 382.5 L884.3 380.1 L898.8 375.9 L912.6 369.9 L925.5 362.2 L937.3 352.9 L948.0 342.0 L957.4 329.8 L965.4 316.3 L971.9 301.7 L976.8 286.2 L980.1 270.0 L981.7 253.3 L981.7 236.1 L980.0 218.8 L976.6 201.6 L971.7 184.5 L965.2 167.9 L957.2 152.0 L947.9 136.8 L937.3 122.5 L925.6 109.4 L913.0 97.6 L899.5 87.2 L885.3 78.3 L870.6 71.0 L855.6 65.4 L840.5 61.6 L825.4 59.5 L810.4 59.3 L795.9 60.9 L781.9 64.3 L768.6 69.4 L756.2 76.3 L744.9 84.7 L734.6 94.7 L725.6 106.0 L718.0 118.6 L711.8 132.4 L707.1 147.1 L703.9 162.6 L702.4 178.7 L702.4 195.3 L704.0 212.1 L707.2 229.0 L712.0 245.7 L718.1 262.1 L725.7 278.1 L734.5 293.3 L744.5 307.7 L755.5 321.1 L767.5 333.3 L780.2 344.2 L793.5 353.7 L807.3 361.7 L821.3 368.0 L835.5 372.7 L849.6 375.7 L863.6 376.8 L877.1 376.2 L890.1 373.9 L902.5 369.8 L914.0 364.0 L924.6 356.6 L934.1 347.6 L942.4 337.3 L949.5 325.6 L955.3 312.7 L959.6 298.8 L962.6 284.0 L964.0 268.5 L964.1 252.4 L962.6 236.1 L959.8 219.5 L955.6 203.0" stroke="#000" stroke-width="1.3" fill="none" stroke-linejoin="round"/>
<g id="labels">
<text x="7.5" y="25.7" font-family='"Liberation Sans", sans-serif' font-size="37" font-weight="bold" text-anchor="start" fill="#000">a</text>
<text x="539" y="25.7" font-family='"Liberation Sans", sans-serif' font-size="37" font-weight="bold" text-anchor="start" fill="#000">b</text>
<text x="76.4" y="96.4" font-family='"Liberation Sans", sans-serif' font-size="38" text-anchor="end" fill="#000" stroke="#000" stroke-width="0.35">4</text>
<text x="76.4" y="186.9" font-family='"Liberation Sans", sans-serif' font-size="38" text-anchor="end" fill="#000" stroke="#000" stroke-width="0.35">2</text>
<text x="76.4" y="277.5" font-family='"Liberation Sans", sans-serif' font-size="38" text-anchor="end" fill="#000" stroke="#000" stroke-width="0.35">0</text>
<text x="76.4" y="368.0" font-family='"Liberation Sans", sans-serif' font-size="38" text-anchor="end" fill="#000" stroke="#000" stroke-width="0.35">-2</text>
<text x="98.5" y="450.9" font-family='"Liberation Sans", sans-serif' font-size="38" text-anchor="middle" fill="#000" stroke="#000" stroke-width="0.35">0</text>
<text x="227.9" y="450.9" font-family='"Liberation Sans", sans-serif' font-size="38" text-anchor="middle" fill="#000" stroke="#000" stroke-width="0.35">500</text>
<text x="357.7" y="450.9" font-family='"Liberation Sans", sans-serif' font-size="38" text-anchor="middle" fill="#000" stroke="#000" stroke-width="0.35">1000</text>
<text x="174.5" y="503" font-family='"Liberation Sans", sans-serif' font-size="43.7" text-anchor="start" fill="#000" stroke="#000" stroke-width="0.35">time,</text>
<text x="289.8" y="503" font-family='"Liberation Serif", serif' font-size="41" text-anchor="start" fill="#000">2</text>
<text x="309" y="503" font-family='"Liberation Serif", serif' font-size="42.5" text-anchor="start" fill="#000" textLength="35.5" lengthAdjust="spacingAndGlyphs">Δ</text>
<text x="343.5" y="503" font-family='"Liberation Serif", serif' font-size="43" font-style="italic" text-anchor="start" fill="#000" textLength="13.6" lengthAdjust="spacingAndGlyphs">t</text>
<text x="361" y="512.8" font-family='"Liberation Serif", serif' font-size="62" text-anchor="start" fill="#000">/</text>
<text x="380.2" y="503" font-family='"Liberation Serif", serif' font-size="42" font-style="italic" text-anchor="start" fill="#000" textLength="23.2" lengthAdjust="spacingAndGlyphs">ħ</text>
<g transform="translate(30.8 425) rotate(-90)">
<text x="0" y="0" font-family='"Liberation Sans", sans-serif' font-size="44.6" text-anchor="start" fill="#000" stroke="#000" stroke-width="0.35">currents,</text>
<text x="199" y="-1.5" font-family='"Liberation Serif", serif' font-size="37.5" font-style="italic" text-anchor="start" fill="#000" textLength="12.72" lengthAdjust="spacingAndGlyphs">j</text>
<text x="215.5" y="7.5" font-family='"Liberation Serif", serif' font-size="25.5" font-style="italic" text-anchor="start" fill="#000" textLength="33.5" lengthAdjust="spacingAndGlyphs">x,y</text>
<text x="255.5" y="6" font-family='"Liberation Serif", serif' font-size="53" text-anchor="start" fill="#000">/</text>
<text x="274.5" y="-1.5" font-family='"Liberation Serif", serif' font-size="37.5" font-style="italic" text-anchor="start" fill="#000" textLength="12.72" lengthAdjust="spacingAndGlyphs">j</text>
<text x="285" y="19" font-family='"Liberation Sans", sans-serif' font-size="25.5" text-anchor="start" fill="#000">0</text>
</g>
<text x="174" y="148.3" font-family='"Liberation Sans", sans-serif' font-size="33" text-anchor="middle" fill="#000" stroke="#000" stroke-width="0.35">0</text>
<text x="243.6" y="148.3" font-family='"Liberation Sans", sans-serif' font-size="33" text-anchor="middle" fill="#000" stroke="#000" stroke-width="0.35">1</text>
<text x="166.8" y="175.9" font-family='"Liberation Sans", sans-serif' font-size="33.3" text-anchor="start" fill="#000" stroke="#000" stroke-width="0.35">frequency,</text>
<text x="330" y="175.9" font-family='"Liberation Serif", serif' font-size="37" font-style="italic" text-anchor="start" fill="#000">ħ</text>
<text x="346" y="175.9" font-family='"Liberation Serif", serif' font-size="37" font-style="italic" text-anchor="start" fill="#000">ω</text>
<text x="375.5" y="184.9" font-family='"Liberation Serif", serif' font-size="54" text-anchor="start" fill="#000">/</text>
<text x="392.5" y="175.9" font-family='"Liberation Serif", serif' font-size="35" text-anchor="start" fill="#000">2</text>
<text x="411.3" y="175.9" font-family='"Liberation Serif", serif' font-size="39.7" text-anchor="start" fill="#000" textLength="30.5" lengthAdjust="spacingAndGlyphs">Δ</text>
<g transform="translate(146 106) rotate(-90)">
<text x="3.5" y="0" font-family='"Liberation Serif", serif' font-size="31" font-style="italic" text-anchor="start" fill="#000" textLength="10.51" lengthAdjust="spacingAndGlyphs">j</text>
<text x="14.5" y="3.8" font-family='"Liberation Serif", serif' font-size="21" font-style="italic" text-anchor="start" fill="#000" textLength="26" lengthAdjust="spacingAndGlyphs">x,y</text>
<text x="43" y="0" font-family='"Liberation Serif", serif' font-size="31" text-anchor="start" fill="#000">(</text>
<text x="53.5" y="0" font-family='"Liberation Serif", serif' font-size="29" font-style="italic" text-anchor="start" fill="#000">ω</text>
<text x="73" y="0" font-family='"Liberation Serif", serif' font-size="31" text-anchor="start" fill="#000">)</text>
</g>
<text x="131.5" y="356" font-family='"Liberation Serif", serif' font-size="31" font-style="italic" text-anchor="start" fill="#cb181d" textLength="10.51" lengthAdjust="spacingAndGlyphs">j</text>
<text x="143.5" y="362.7" font-family='"Liberation Serif", serif' font-size="21" font-style="italic" text-anchor="start" fill="#cb181d">y</text>
<text x="234" y="347.8" font-family='"Liberation Serif", serif' font-size="30.5" font-style="italic" text-anchor="start" fill="#2814ff" textLength="10.34" lengthAdjust="spacingAndGlyphs">j</text>
<text x="244" y="355" font-family='"Liberation Serif", serif' font-size="21" font-style="italic" text-anchor="start" fill="#2814ff" textLength="11.2" lengthAdjust="spacingAndGlyphs">x</text>
<text x="644.6" y="117.60000000000001" font-family='"Liberation Sans", sans-serif' font-size="32" text-anchor="end" fill="#000" stroke="#000" stroke-width="0.35">1</text>
<text x="642.6" y="230.79999999999998" font-family='"Liberation Sans", sans-serif' font-size="32" text-anchor="end" fill="#000" stroke="#000" stroke-width="0.35">0</text>
<text x="644.6" y="344.0" font-family='"Liberation Sans", sans-serif' font-size="32" text-anchor="end" fill="#000" stroke="#000" stroke-width="0.35">-1</text>
<text x="728.9000000000001" y="441.2" font-family='"Liberation Sans", sans-serif' font-size="32" text-anchor="middle" fill="#000" stroke="#000" stroke-width="0.35">-1</text>
<text x="839.3000000000001" y="441.2" font-family='"Liberation Sans", sans-serif' font-size="32" text-anchor="middle" fill="#000" stroke="#000" stroke-width="0.35">0</text>
<text x="955.7" y="441.2" font-family='"Liberation Sans", sans-serif' font-size="32" text-anchor="middle" fill="#000" stroke="#000" stroke-width="0.35">1</text>
<text x="745.5" y="496.5" font-family='"Liberation Sans", sans-serif' font-size="44.6" text-anchor="start" fill="#000" stroke="#000" stroke-width="0.35">current,</text>
<text x="906.5" y="489.1" font-family='"Liberation Serif", serif' font-size="38" font-style="italic" text-anchor="start" fill="#000" textLength="12.89" lengthAdjust="spacingAndGlyphs">j</text>
<text x="918.5" y="496" font-family='"Liberation Serif", serif' font-size="23" font-style="italic" text-anchor="start" fill="#000" textLength="14" lengthAdjust="spacingAndGlyphs">x</text>
<text x="935" y="496.5" font-family='"Liberation Serif", serif' font-size="49" text-anchor="start" fill="#000">/</text>
<text x="956.5" y="489.1" font-family='"Liberation Serif", serif' font-size="38" font-style="italic" text-anchor="start" fill="#000" textLength="12.89" lengthAdjust="spacingAndGlyphs">j</text>
<text x="966.3" y="508" font-family='"Liberation Sans", sans-serif' font-size="23.5" text-anchor="start" fill="#000">0</text>
<g transform="translate(609 356.3) rotate(-90)">
<text x="0" y="0" font-family='"Liberation Sans", sans-serif' font-size="44.6" text-anchor="start" fill="#000" stroke="#000" stroke-width="0.35">current,</text>
<text x="160.5" y="-7.4" font-family='"Liberation Serif", serif' font-size="38" font-style="italic" text-anchor="start" fill="#000" textLength="12.89" lengthAdjust="spacingAndGlyphs">j</text>
<text x="171" y="0" font-family='"Liberation Serif", serif' font-size="23.5" font-style="italic" text-anchor="start" fill="#000" textLength="13" lengthAdjust="spacingAndGlyphs">y</text>
<text x="188" y="1" font-family='"Liberation Serif", serif' font-size="51" text-anchor="start" fill="#000">/</text>
<text x="207.5" y="-7.4" font-family='"Liberation Serif", serif' font-size="38" font-style="italic" text-anchor="start" fill="#000" textLength="12.89" lengthAdjust="spacingAndGlyphs">j</text>
<text x="218" y="12.5" font-family='"Liberation Sans", sans-serif' font-size="23.5" text-anchor="start" fill="#000">0</text>
</g>
</g>
</svg>
</body>
</html>
